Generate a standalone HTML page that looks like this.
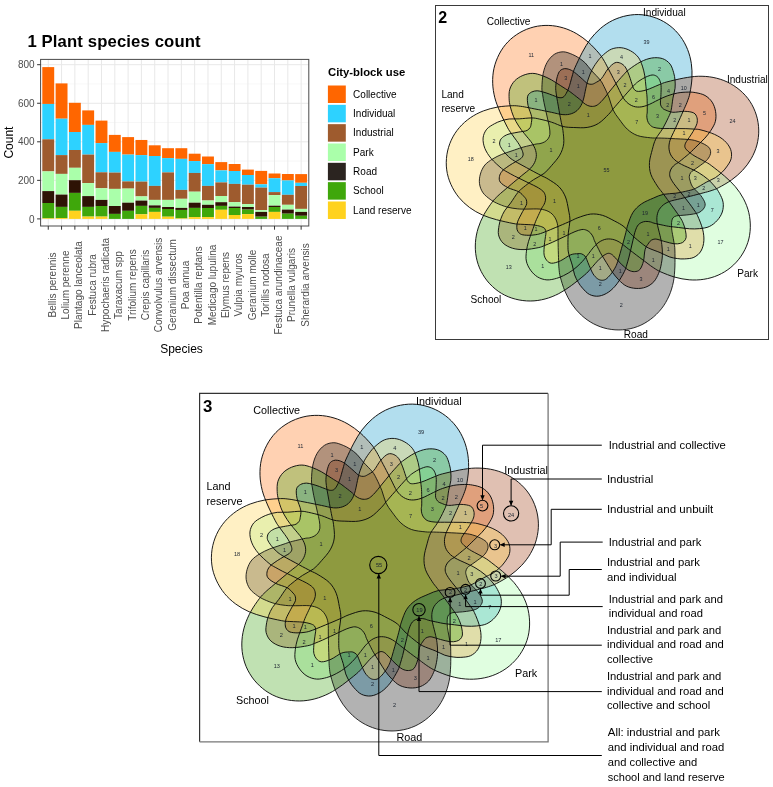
<!DOCTYPE html>
<html><head><meta charset="utf-8"><title>Plant species count</title>
<style>
html,body{margin:0;padding:0;background:#fff;}
body{width:773px;height:787px;overflow:hidden;position:relative;font-family:"Liberation Sans",sans-serif;}
svg{position:absolute;left:0;top:0;}
text{font-family:"Liberation Sans",sans-serif;}
.ax{font-size:10px;fill:#4d4d4d;}
.lg{font-size:10px;fill:#000;}
.vl{font-size:10.3px;fill:#000;}
.num{font-size:4px;fill:#333;text-anchor:middle;}
.ann{font-size:11.3px;fill:#000;}
</style></head><body>
<svg width="773" height="787" viewBox="0 0 773 787">
<rect width="773" height="787" fill="#fff"/>
<g><line x1="40.6" x2="308.8" y1="199.62" y2="199.62" stroke="#f2f2f2" stroke-width="0.6"/><line x1="40.6" x2="308.8" y1="161.08" y2="161.08" stroke="#f2f2f2" stroke-width="0.6"/><line x1="40.6" x2="308.8" y1="122.53" y2="122.53" stroke="#f2f2f2" stroke-width="0.6"/><line x1="40.6" x2="308.8" y1="83.98" y2="83.98" stroke="#f2f2f2" stroke-width="0.6"/><line x1="40.6" x2="308.8" y1="218.90" y2="218.90" stroke="#e8e8e8" stroke-width="1"/><line x1="40.6" x2="308.8" y1="180.35" y2="180.35" stroke="#e8e8e8" stroke-width="1"/><line x1="40.6" x2="308.8" y1="141.80" y2="141.80" stroke="#e8e8e8" stroke-width="1"/><line x1="40.6" x2="308.8" y1="103.25" y2="103.25" stroke="#e8e8e8" stroke-width="1"/><line x1="40.6" x2="308.8" y1="64.70" y2="64.70" stroke="#e8e8e8" stroke-width="1"/><line x1="48.25" x2="48.25" y1="59.4" y2="226.0" stroke="#e8e8e8" stroke-width="1"/><line x1="61.56" x2="61.56" y1="59.4" y2="226.0" stroke="#e8e8e8" stroke-width="1"/><line x1="74.87" x2="74.87" y1="59.4" y2="226.0" stroke="#e8e8e8" stroke-width="1"/><line x1="88.18" x2="88.18" y1="59.4" y2="226.0" stroke="#e8e8e8" stroke-width="1"/><line x1="101.49" x2="101.49" y1="59.4" y2="226.0" stroke="#e8e8e8" stroke-width="1"/><line x1="114.80" x2="114.80" y1="59.4" y2="226.0" stroke="#e8e8e8" stroke-width="1"/><line x1="128.11" x2="128.11" y1="59.4" y2="226.0" stroke="#e8e8e8" stroke-width="1"/><line x1="141.42" x2="141.42" y1="59.4" y2="226.0" stroke="#e8e8e8" stroke-width="1"/><line x1="154.73" x2="154.73" y1="59.4" y2="226.0" stroke="#e8e8e8" stroke-width="1"/><line x1="168.04" x2="168.04" y1="59.4" y2="226.0" stroke="#e8e8e8" stroke-width="1"/><line x1="181.35" x2="181.35" y1="59.4" y2="226.0" stroke="#e8e8e8" stroke-width="1"/><line x1="194.66" x2="194.66" y1="59.4" y2="226.0" stroke="#e8e8e8" stroke-width="1"/><line x1="207.97" x2="207.97" y1="59.4" y2="226.0" stroke="#e8e8e8" stroke-width="1"/><line x1="221.28" x2="221.28" y1="59.4" y2="226.0" stroke="#e8e8e8" stroke-width="1"/><line x1="234.59" x2="234.59" y1="59.4" y2="226.0" stroke="#e8e8e8" stroke-width="1"/><line x1="247.90" x2="247.90" y1="59.4" y2="226.0" stroke="#e8e8e8" stroke-width="1"/><line x1="261.21" x2="261.21" y1="59.4" y2="226.0" stroke="#e8e8e8" stroke-width="1"/><line x1="274.52" x2="274.52" y1="59.4" y2="226.0" stroke="#e8e8e8" stroke-width="1"/><line x1="287.83" x2="287.83" y1="59.4" y2="226.0" stroke="#e8e8e8" stroke-width="1"/><line x1="301.14" x2="301.14" y1="59.4" y2="226.0" stroke="#e8e8e8" stroke-width="1"/></g>
<g><rect x="42.30" y="67.10" width="11.9" height="36.85" fill="#ff6600"/><rect x="42.30" y="103.95" width="11.9" height="35.35" fill="#2dd2ff"/><rect x="42.30" y="139.30" width="11.9" height="32.10" fill="#9e5b2e"/><rect x="42.30" y="171.40" width="11.9" height="19.70" fill="#aaffaa"/><rect x="42.30" y="191.10" width="11.9" height="11.90" fill="#2e1305"/><rect x="42.30" y="203.00" width="11.9" height="15.30" fill="#3fa70b"/><rect x="42.30" y="218.30" width="11.9" height="0.60" fill="#ffd21e"/><rect x="55.61" y="83.40" width="11.9" height="35.30" fill="#ff6600"/><rect x="55.61" y="118.70" width="11.9" height="36.40" fill="#2dd2ff"/><rect x="55.61" y="155.10" width="11.9" height="18.80" fill="#9e5b2e"/><rect x="55.61" y="173.90" width="11.9" height="20.70" fill="#aaffaa"/><rect x="55.61" y="194.60" width="11.9" height="12.30" fill="#2e1305"/><rect x="55.61" y="206.90" width="11.9" height="11.10" fill="#3fa70b"/><rect x="55.61" y="218.00" width="11.9" height="0.90" fill="#ffd21e"/><rect x="68.92" y="102.80" width="11.9" height="29.20" fill="#ff6600"/><rect x="68.92" y="132.00" width="11.9" height="18.00" fill="#2dd2ff"/><rect x="68.92" y="150.00" width="11.9" height="17.80" fill="#9e5b2e"/><rect x="68.92" y="167.80" width="11.9" height="12.40" fill="#aaffaa"/><rect x="68.92" y="180.20" width="11.9" height="12.70" fill="#2e1305"/><rect x="68.92" y="192.90" width="11.9" height="17.90" fill="#3fa70b"/><rect x="68.92" y="210.80" width="11.9" height="8.10" fill="#ffd21e"/><rect x="82.23" y="110.40" width="11.9" height="14.50" fill="#ff6600"/><rect x="82.23" y="124.90" width="11.9" height="29.70" fill="#2dd2ff"/><rect x="82.23" y="154.60" width="11.9" height="28.50" fill="#9e5b2e"/><rect x="82.23" y="183.10" width="11.9" height="13.00" fill="#aaffaa"/><rect x="82.23" y="196.10" width="11.9" height="10.80" fill="#2e1305"/><rect x="82.23" y="206.90" width="11.9" height="9.70" fill="#3fa70b"/><rect x="82.23" y="216.60" width="11.9" height="2.30" fill="#ffd21e"/><rect x="95.54" y="120.60" width="11.9" height="22.50" fill="#ff6600"/><rect x="95.54" y="143.10" width="11.9" height="29.20" fill="#2dd2ff"/><rect x="95.54" y="172.30" width="11.9" height="15.95" fill="#9e5b2e"/><rect x="95.54" y="188.25" width="11.9" height="11.65" fill="#aaffaa"/><rect x="95.54" y="199.90" width="11.9" height="6.10" fill="#2e1305"/><rect x="95.54" y="206.00" width="11.9" height="10.60" fill="#3fa70b"/><rect x="95.54" y="216.60" width="11.9" height="2.30" fill="#ffd21e"/><rect x="108.85" y="134.90" width="11.9" height="17.00" fill="#ff6600"/><rect x="108.85" y="151.90" width="11.9" height="20.70" fill="#2dd2ff"/><rect x="108.85" y="172.60" width="11.9" height="16.30" fill="#9e5b2e"/><rect x="108.85" y="188.90" width="11.9" height="17.10" fill="#aaffaa"/><rect x="108.85" y="206.00" width="11.9" height="7.90" fill="#2e1305"/><rect x="108.85" y="213.90" width="11.9" height="5.00" fill="#3fa70b"/><rect x="122.16" y="137.10" width="11.9" height="17.50" fill="#ff6600"/><rect x="122.16" y="154.60" width="11.9" height="26.80" fill="#2dd2ff"/><rect x="122.16" y="181.40" width="11.9" height="7.20" fill="#9e5b2e"/><rect x="122.16" y="188.60" width="11.9" height="14.10" fill="#aaffaa"/><rect x="122.16" y="202.70" width="11.9" height="8.15" fill="#2e1305"/><rect x="122.16" y="210.85" width="11.9" height="8.05" fill="#3fa70b"/><rect x="135.47" y="139.96" width="11.9" height="15.14" fill="#ff6600"/><rect x="135.47" y="155.10" width="11.9" height="26.50" fill="#2dd2ff"/><rect x="135.47" y="181.60" width="11.9" height="14.80" fill="#9e5b2e"/><rect x="135.47" y="196.40" width="11.9" height="4.20" fill="#aaffaa"/><rect x="135.47" y="200.60" width="11.9" height="5.30" fill="#2e1305"/><rect x="135.47" y="205.90" width="11.9" height="8.40" fill="#3fa70b"/><rect x="135.47" y="214.30" width="11.9" height="4.60" fill="#ffd21e"/><rect x="148.78" y="145.30" width="11.9" height="10.70" fill="#ff6600"/><rect x="148.78" y="156.00" width="11.9" height="29.90" fill="#2dd2ff"/><rect x="148.78" y="185.90" width="11.9" height="14.00" fill="#9e5b2e"/><rect x="148.78" y="199.90" width="11.9" height="5.50" fill="#aaffaa"/><rect x="148.78" y="205.40" width="11.9" height="2.50" fill="#2e1305"/><rect x="148.78" y="207.90" width="11.9" height="4.00" fill="#3fa70b"/><rect x="148.78" y="211.90" width="11.9" height="7.00" fill="#ffd21e"/><rect x="162.09" y="148.20" width="11.9" height="9.90" fill="#ff6600"/><rect x="162.09" y="158.10" width="11.9" height="14.30" fill="#2dd2ff"/><rect x="162.09" y="172.40" width="11.9" height="27.50" fill="#9e5b2e"/><rect x="162.09" y="199.90" width="11.9" height="7.10" fill="#aaffaa"/><rect x="162.09" y="207.00" width="11.9" height="2.00" fill="#2e1305"/><rect x="162.09" y="209.00" width="11.9" height="7.70" fill="#3fa70b"/><rect x="162.09" y="216.70" width="11.9" height="2.20" fill="#ffd21e"/><rect x="175.40" y="148.20" width="11.9" height="10.65" fill="#ff6600"/><rect x="175.40" y="158.85" width="11.9" height="31.05" fill="#2dd2ff"/><rect x="175.40" y="189.90" width="11.9" height="8.90" fill="#9e5b2e"/><rect x="175.40" y="198.80" width="11.9" height="9.10" fill="#aaffaa"/><rect x="175.40" y="207.90" width="11.9" height="2.05" fill="#2e1305"/><rect x="175.40" y="209.95" width="11.9" height="8.45" fill="#3fa70b"/><rect x="175.40" y="218.40" width="11.9" height="0.50" fill="#ffd21e"/><rect x="188.71" y="153.70" width="11.9" height="7.35" fill="#ff6600"/><rect x="188.71" y="161.05" width="11.9" height="11.90" fill="#2dd2ff"/><rect x="188.71" y="172.95" width="11.9" height="18.75" fill="#9e5b2e"/><rect x="188.71" y="191.70" width="11.9" height="11.00" fill="#aaffaa"/><rect x="188.71" y="202.70" width="11.9" height="5.20" fill="#2e1305"/><rect x="188.71" y="207.90" width="11.9" height="9.20" fill="#3fa70b"/><rect x="188.71" y="217.10" width="11.9" height="1.80" fill="#ffd21e"/><rect x="202.02" y="156.50" width="11.9" height="7.65" fill="#ff6600"/><rect x="202.02" y="164.15" width="11.9" height="21.75" fill="#2dd2ff"/><rect x="202.02" y="185.90" width="11.9" height="14.60" fill="#9e5b2e"/><rect x="202.02" y="200.50" width="11.9" height="4.30" fill="#aaffaa"/><rect x="202.02" y="204.80" width="11.9" height="3.20" fill="#2e1305"/><rect x="202.02" y="208.00" width="11.9" height="9.10" fill="#3fa70b"/><rect x="202.02" y="217.10" width="11.9" height="1.80" fill="#ffd21e"/><rect x="215.33" y="162.10" width="11.9" height="8.30" fill="#ff6600"/><rect x="215.33" y="170.40" width="11.9" height="12.00" fill="#2dd2ff"/><rect x="215.33" y="182.40" width="11.9" height="13.60" fill="#9e5b2e"/><rect x="215.33" y="196.00" width="11.9" height="6.20" fill="#aaffaa"/><rect x="215.33" y="202.20" width="11.9" height="3.70" fill="#2e1305"/><rect x="215.33" y="205.90" width="11.9" height="3.90" fill="#3fa70b"/><rect x="215.33" y="209.80" width="11.9" height="9.10" fill="#ffd21e"/><rect x="228.64" y="164.00" width="11.9" height="7.00" fill="#ff6600"/><rect x="228.64" y="171.00" width="11.9" height="12.90" fill="#2dd2ff"/><rect x="228.64" y="183.90" width="11.9" height="18.30" fill="#9e5b2e"/><rect x="228.64" y="202.20" width="11.9" height="4.40" fill="#aaffaa"/><rect x="228.64" y="206.60" width="11.9" height="1.40" fill="#2e1305"/><rect x="228.64" y="208.00" width="11.9" height="7.00" fill="#3fa70b"/><rect x="228.64" y="215.00" width="11.9" height="3.90" fill="#ffd21e"/><rect x="241.95" y="169.60" width="11.9" height="5.40" fill="#ff6600"/><rect x="241.95" y="175.00" width="11.9" height="9.70" fill="#2dd2ff"/><rect x="241.95" y="184.70" width="11.9" height="19.40" fill="#9e5b2e"/><rect x="241.95" y="204.10" width="11.9" height="2.90" fill="#aaffaa"/><rect x="241.95" y="207.00" width="11.9" height="2.60" fill="#2e1305"/><rect x="241.95" y="209.60" width="11.9" height="4.50" fill="#3fa70b"/><rect x="241.95" y="214.10" width="11.9" height="4.80" fill="#ffd21e"/><rect x="255.26" y="170.90" width="11.9" height="13.40" fill="#ff6600"/><rect x="255.26" y="184.30" width="11.9" height="3.30" fill="#2dd2ff"/><rect x="255.26" y="187.60" width="11.9" height="22.60" fill="#9e5b2e"/><rect x="255.26" y="210.20" width="11.9" height="1.70" fill="#aaffaa"/><rect x="255.26" y="211.90" width="11.9" height="4.80" fill="#2e1305"/><rect x="255.26" y="216.70" width="11.9" height="2.20" fill="#3fa70b"/><rect x="268.57" y="173.50" width="11.9" height="4.75" fill="#ff6600"/><rect x="268.57" y="178.25" width="11.9" height="13.85" fill="#2dd2ff"/><rect x="268.57" y="192.10" width="11.9" height="3.00" fill="#9e5b2e"/><rect x="268.57" y="195.10" width="11.9" height="10.60" fill="#aaffaa"/><rect x="268.57" y="205.70" width="11.9" height="1.30" fill="#2e1305"/><rect x="268.57" y="207.00" width="11.9" height="4.90" fill="#3fa70b"/><rect x="268.57" y="211.90" width="11.9" height="7.00" fill="#ffd21e"/><rect x="281.88" y="174.00" width="11.9" height="6.45" fill="#ff6600"/><rect x="281.88" y="180.45" width="11.9" height="14.35" fill="#2dd2ff"/><rect x="281.88" y="194.80" width="11.9" height="10.00" fill="#9e5b2e"/><rect x="281.88" y="204.80" width="11.9" height="4.80" fill="#aaffaa"/><rect x="281.88" y="209.60" width="11.9" height="4.10" fill="#2e1305"/><rect x="281.88" y="213.70" width="11.9" height="5.20" fill="#3fa70b"/><rect x="295.19" y="174.10" width="11.9" height="8.70" fill="#ff6600"/><rect x="295.19" y="182.80" width="11.9" height="3.20" fill="#2dd2ff"/><rect x="295.19" y="186.00" width="11.9" height="22.90" fill="#9e5b2e"/><rect x="295.19" y="208.90" width="11.9" height="3.00" fill="#aaffaa"/><rect x="295.19" y="211.90" width="11.9" height="3.90" fill="#2e1305"/><rect x="295.19" y="215.80" width="11.9" height="3.10" fill="#3fa70b"/></g>
<rect x="40.6" y="59.4" width="268.2" height="166.6" fill="none" stroke="#4a4a4a" stroke-width="1"/>
<g><line x1="37.1" x2="40.6" y1="218.90" y2="218.90" stroke="#333" stroke-width="1"/><text class="ax" x="34.6" y="222.50" text-anchor="end">0</text><line x1="37.1" x2="40.6" y1="180.35" y2="180.35" stroke="#333" stroke-width="1"/><text class="ax" x="34.6" y="183.95" text-anchor="end">200</text><line x1="37.1" x2="40.6" y1="141.80" y2="141.80" stroke="#333" stroke-width="1"/><text class="ax" x="34.6" y="145.40" text-anchor="end">400</text><line x1="37.1" x2="40.6" y1="103.25" y2="103.25" stroke="#333" stroke-width="1"/><text class="ax" x="34.6" y="106.85" text-anchor="end">600</text><line x1="37.1" x2="40.6" y1="64.70" y2="64.70" stroke="#333" stroke-width="1"/><text class="ax" x="34.6" y="68.30" text-anchor="end">800</text><line x1="48.25" x2="48.25" y1="226.0" y2="229.7" stroke="#333" stroke-width="1"/><text class="ax" transform="translate(55.85,285.0) rotate(-90)" text-anchor="middle">Bellis perennis</text><line x1="61.56" x2="61.56" y1="226.0" y2="229.7" stroke="#333" stroke-width="1"/><text class="ax" transform="translate(69.16,285.0) rotate(-90)" text-anchor="middle">Lolium perenne</text><line x1="74.87" x2="74.87" y1="226.0" y2="229.7" stroke="#333" stroke-width="1"/><text class="ax" transform="translate(82.47,285.0) rotate(-90)" text-anchor="middle">Plantago lanceolata</text><line x1="88.18" x2="88.18" y1="226.0" y2="229.7" stroke="#333" stroke-width="1"/><text class="ax" transform="translate(95.78,285.0) rotate(-90)" text-anchor="middle">Festuca rubra</text><line x1="101.49" x2="101.49" y1="226.0" y2="229.7" stroke="#333" stroke-width="1"/><text class="ax" transform="translate(109.09,285.0) rotate(-90)" text-anchor="middle">Hypochaeris radicata</text><line x1="114.80" x2="114.80" y1="226.0" y2="229.7" stroke="#333" stroke-width="1"/><text class="ax" transform="translate(122.40,285.0) rotate(-90)" text-anchor="middle">Taraxacum spp</text><line x1="128.11" x2="128.11" y1="226.0" y2="229.7" stroke="#333" stroke-width="1"/><text class="ax" transform="translate(135.71,285.0) rotate(-90)" text-anchor="middle">Trifolium repens</text><line x1="141.42" x2="141.42" y1="226.0" y2="229.7" stroke="#333" stroke-width="1"/><text class="ax" transform="translate(149.02,285.0) rotate(-90)" text-anchor="middle">Crepis capillaris</text><line x1="154.73" x2="154.73" y1="226.0" y2="229.7" stroke="#333" stroke-width="1"/><text class="ax" transform="translate(162.33,285.0) rotate(-90)" text-anchor="middle">Convolvulus arvensis</text><line x1="168.04" x2="168.04" y1="226.0" y2="229.7" stroke="#333" stroke-width="1"/><text class="ax" transform="translate(175.64,285.0) rotate(-90)" text-anchor="middle">Geranium dissectum</text><line x1="181.35" x2="181.35" y1="226.0" y2="229.7" stroke="#333" stroke-width="1"/><text class="ax" transform="translate(188.95,285.0) rotate(-90)" text-anchor="middle">Poa annua</text><line x1="194.66" x2="194.66" y1="226.0" y2="229.7" stroke="#333" stroke-width="1"/><text class="ax" transform="translate(202.26,285.0) rotate(-90)" text-anchor="middle">Potentilla reptans</text><line x1="207.97" x2="207.97" y1="226.0" y2="229.7" stroke="#333" stroke-width="1"/><text class="ax" transform="translate(215.57,285.0) rotate(-90)" text-anchor="middle">Medicago lupulina</text><line x1="221.28" x2="221.28" y1="226.0" y2="229.7" stroke="#333" stroke-width="1"/><text class="ax" transform="translate(228.88,285.0) rotate(-90)" text-anchor="middle">Elymus repens</text><line x1="234.59" x2="234.59" y1="226.0" y2="229.7" stroke="#333" stroke-width="1"/><text class="ax" transform="translate(242.19,285.0) rotate(-90)" text-anchor="middle">Vulpia myuros</text><line x1="247.90" x2="247.90" y1="226.0" y2="229.7" stroke="#333" stroke-width="1"/><text class="ax" transform="translate(255.50,285.0) rotate(-90)" text-anchor="middle">Geranium molle</text><line x1="261.21" x2="261.21" y1="226.0" y2="229.7" stroke="#333" stroke-width="1"/><text class="ax" transform="translate(268.81,285.0) rotate(-90)" text-anchor="middle">Torillis nodosa</text><line x1="274.52" x2="274.52" y1="226.0" y2="229.7" stroke="#333" stroke-width="1"/><text class="ax" transform="translate(282.12,285.0) rotate(-90)" text-anchor="middle">Festuca arundinaceae</text><line x1="287.83" x2="287.83" y1="226.0" y2="229.7" stroke="#333" stroke-width="1"/><text class="ax" transform="translate(295.43,285.0) rotate(-90)" text-anchor="middle">Prunella vulgaris</text><line x1="301.14" x2="301.14" y1="226.0" y2="229.7" stroke="#333" stroke-width="1"/><text class="ax" transform="translate(308.74,285.0) rotate(-90)" text-anchor="middle">Sherardia arvensis</text></g>
<text x="27.4" y="47" font-size="16.7px" font-weight="bold" fill="#000" textLength="173.2" lengthAdjust="spacing">1 Plant species count</text>
<text transform="translate(12.6,142.6) rotate(-90)" text-anchor="middle" font-size="12px" fill="#000">Count</text>
<text x="181.5" y="352.7" text-anchor="middle" font-size="12px" fill="#000">Species</text>
<text x="328" y="76.3" font-size="11.3px" font-weight="bold" fill="#000">City-block use</text>
<rect x="327.9" y="85.50" width="17.9" height="17.5" fill="#ff6600"/><text class="lg" x="353.1" y="97.70">Collective</text>
<rect x="327.9" y="104.83" width="17.9" height="17.5" fill="#2dd2ff"/><text class="lg" x="353.1" y="117.03">Individual</text>
<rect x="327.9" y="124.16" width="17.9" height="17.5" fill="#9e5b2e"/><text class="lg" x="353.1" y="136.36">Industrial</text>
<rect x="327.9" y="143.49" width="17.9" height="17.5" fill="#aaffaa"/><text class="lg" x="353.1" y="155.69">Park</text>
<rect x="327.9" y="162.82" width="17.9" height="17.5" fill="#2b2420"/><text class="lg" x="353.1" y="175.02">Road</text>
<rect x="327.9" y="182.15" width="17.9" height="17.5" fill="#3fa70b"/><text class="lg" x="353.1" y="194.35">School</text>
<rect x="327.9" y="201.48" width="17.9" height="17.5" fill="#ffd21e"/><text class="lg" x="353.1" y="213.68">Land reserve</text>
<rect x="435.5" y="5.5" width="333" height="334" fill="#fff" stroke="#3a3a3a" stroke-width="1"/>
<g transform="translate(604.50,169.70) scale(1.0000,1.0000) translate(-604.5,-169.7)"><path d="M559.0 268.8C559.3 271.5 559.3 273.3 560.3 277.0C561.3 280.7 563.0 286.6 564.9 291.1C566.8 295.6 569.1 300.0 571.8 304.0C574.5 308.0 577.7 311.8 581.3 315.1C584.9 318.4 589.0 321.4 593.4 323.7C597.8 326.0 602.6 327.8 607.5 328.8C612.4 329.8 617.6 330.2 622.6 329.8C627.6 329.4 632.7 328.4 637.4 326.6C642.1 324.9 646.6 322.3 650.6 319.3C654.6 316.3 658.3 312.7 661.4 308.8C664.5 304.9 667.0 300.5 669.0 296.0C671.0 291.5 672.4 286.7 673.4 281.9C674.4 277.1 674.6 272.3 674.9 267.0C675.1 261.7 675.0 254.1 674.9 250.0C674.8 245.9 674.4 245.1 674.0 242.5C673.6 239.9 672.9 236.6 672.5 234.3C672.1 232.0 671.9 230.9 671.7 228.9C671.6 226.9 671.4 224.4 671.6 222.6C671.8 220.8 672.0 219.1 672.8 218.0C673.6 216.9 675.0 216.3 676.3 215.9C677.5 215.5 678.6 215.7 680.3 215.5C681.9 215.3 684.0 215.2 686.2 215.0C688.4 214.8 691.4 214.4 693.5 214.0C695.6 213.6 697.2 213.4 698.9 212.6C700.5 211.8 702.4 210.5 703.4 209.0C704.4 207.5 705.5 205.9 705.1 203.6C704.7 201.3 702.8 198.2 700.7 195.4C698.6 192.6 694.4 189.4 692.6 186.8C690.8 184.2 690.5 181.8 689.9 180.0C689.3 178.2 689.2 177.5 689.3 176.3C689.4 175.1 690.0 173.7 690.7 172.6C691.5 171.5 692.4 171.0 693.8 170.0C695.2 169.0 696.9 168.0 699.0 166.4C701.1 164.8 704.5 162.5 706.3 160.7C708.1 158.9 709.2 157.1 709.9 155.5C710.6 153.9 710.8 152.8 710.6 151.4C710.4 150.0 710.0 148.6 708.8 147.3C707.5 146.0 705.2 144.7 703.1 143.6C701.0 142.5 698.3 141.5 695.9 140.8C693.5 140.1 692.8 139.9 688.7 139.5C684.6 139.1 676.1 138.8 671.1 138.5C666.1 138.2 662.0 138.1 658.6 138.0C655.2 137.9 654.1 138.2 650.6 137.8C647.1 137.4 641.5 137.0 637.6 135.6C633.7 134.2 630.4 132.0 627.3 129.2C624.2 126.4 621.3 122.0 618.9 118.8C616.5 115.6 614.6 113.2 613.0 109.8C611.4 106.3 610.7 102.0 609.2 98.1C607.7 94.2 605.5 89.5 604.0 86.5C602.5 83.5 602.2 82.6 600.2 80.0C598.2 77.4 594.2 73.6 591.7 70.8C589.2 68.0 587.4 65.2 585.3 63.0C583.1 60.9 581.0 59.3 578.8 57.9C576.6 56.5 574.9 55.4 572.3 54.4C569.7 53.4 566.3 51.8 563.3 51.8C560.3 51.8 556.9 52.6 554.2 54.4C551.5 56.2 548.9 59.2 547.1 62.4C545.3 65.6 544.1 69.2 543.2 73.4C542.3 77.6 542.0 84.1 541.9 87.6C541.8 91.1 542.2 92.0 542.6 94.5C543.0 97.0 543.5 99.9 544.0 102.6C544.5 105.3 545.2 108.1 545.8 110.8C546.4 113.5 547.0 116.2 547.6 118.9C548.2 121.6 549.0 124.5 549.4 127.1C549.8 129.7 550.1 132.3 549.9 134.3C549.7 136.3 548.9 137.6 548.0 138.9C547.1 140.2 545.8 141.2 544.4 142.0C543.0 142.8 541.2 143.3 539.9 143.6C538.5 143.9 538.3 143.6 536.3 144.0C534.3 144.4 530.5 145.3 528.1 145.9C525.7 146.5 524.5 146.7 521.8 147.5C519.1 148.3 515.5 149.7 512.1 150.8C508.8 152.0 504.9 153.1 501.7 154.4C498.5 155.8 495.5 157.1 492.7 158.9C489.9 160.7 486.9 162.5 484.9 165.0C482.8 167.5 481.3 170.9 480.4 174.0C479.5 177.1 479.1 180.6 479.5 183.7C479.9 186.8 481.2 190.2 483.0 192.8C484.8 195.4 487.8 197.6 490.1 199.3C492.4 201.0 493.8 201.8 496.6 203.1C499.4 204.4 503.4 206.1 506.9 207.0C510.3 207.9 514.0 208.5 517.3 208.8C520.6 209.2 523.1 209.1 526.9 209.1C530.7 209.1 536.2 208.7 539.9 209.1C543.6 209.5 546.4 210.3 548.9 211.7C551.4 213.0 553.2 214.9 554.7 217.2C556.2 219.5 557.2 222.2 557.7 225.6C558.2 228.9 557.9 233.6 558.0 237.3C558.1 241.0 558.1 243.7 558.2 247.6C558.3 251.5 558.5 257.1 558.6 260.6C558.7 264.1 558.7 266.1 559.0 268.8Z" transform="translate(1.1,-0.7) rotate(154.2857 604.5 169.7)" fill="#ff6600" fill-opacity="0.3" stroke="none"/><path d="M559.0 268.8C559.3 271.5 559.3 273.3 560.3 277.0C561.3 280.7 563.0 286.6 564.9 291.1C566.8 295.6 569.1 300.0 571.8 304.0C574.5 308.0 577.7 311.8 581.3 315.1C584.9 318.4 589.0 321.4 593.4 323.7C597.8 326.0 602.6 327.8 607.5 328.8C612.4 329.8 617.6 330.2 622.6 329.8C627.6 329.4 632.7 328.4 637.4 326.6C642.1 324.9 646.6 322.3 650.6 319.3C654.6 316.3 658.3 312.7 661.4 308.8C664.5 304.9 667.0 300.5 669.0 296.0C671.0 291.5 672.4 286.7 673.4 281.9C674.4 277.1 674.6 272.3 674.9 267.0C675.1 261.7 675.0 254.1 674.9 250.0C674.8 245.9 674.4 245.1 674.0 242.5C673.6 239.9 672.9 236.6 672.5 234.3C672.1 232.0 671.9 230.9 671.7 228.9C671.6 226.9 671.4 224.4 671.6 222.6C671.8 220.8 672.0 219.1 672.8 218.0C673.6 216.9 675.0 216.3 676.3 215.9C677.5 215.5 678.6 215.7 680.3 215.5C681.9 215.3 684.0 215.2 686.2 215.0C688.4 214.8 691.4 214.4 693.5 214.0C695.6 213.6 697.2 213.4 698.9 212.6C700.5 211.8 702.4 210.5 703.4 209.0C704.4 207.5 705.5 205.9 705.1 203.6C704.7 201.3 702.8 198.2 700.7 195.4C698.6 192.6 694.4 189.4 692.6 186.8C690.8 184.2 690.5 181.8 689.9 180.0C689.3 178.2 689.2 177.5 689.3 176.3C689.4 175.1 690.0 173.7 690.7 172.6C691.5 171.5 692.4 171.0 693.8 170.0C695.2 169.0 696.9 168.0 699.0 166.4C701.1 164.8 704.5 162.5 706.3 160.7C708.1 158.9 709.2 157.1 709.9 155.5C710.6 153.9 710.8 152.8 710.6 151.4C710.4 150.0 710.0 148.6 708.8 147.3C707.5 146.0 705.2 144.7 703.1 143.6C701.0 142.5 698.3 141.5 695.9 140.8C693.5 140.1 692.8 139.9 688.7 139.5C684.6 139.1 676.1 138.8 671.1 138.5C666.1 138.2 662.0 138.1 658.6 138.0C655.2 137.9 654.1 138.2 650.6 137.8C647.1 137.4 641.5 137.0 637.6 135.6C633.7 134.2 630.4 132.0 627.3 129.2C624.2 126.4 621.3 122.0 618.9 118.8C616.5 115.6 614.6 113.2 613.0 109.8C611.4 106.3 610.7 102.0 609.2 98.1C607.7 94.2 605.5 89.5 604.0 86.5C602.5 83.5 602.2 82.6 600.2 80.0C598.2 77.4 594.2 73.6 591.7 70.8C589.2 68.0 587.4 65.2 585.3 63.0C583.1 60.9 581.0 59.3 578.8 57.9C576.6 56.5 574.9 55.4 572.3 54.4C569.7 53.4 566.3 51.8 563.3 51.8C560.3 51.8 556.9 52.6 554.2 54.4C551.5 56.2 548.9 59.2 547.1 62.4C545.3 65.6 544.1 69.2 543.2 73.4C542.3 77.6 542.0 84.1 541.9 87.6C541.8 91.1 542.2 92.0 542.6 94.5C543.0 97.0 543.5 99.9 544.0 102.6C544.5 105.3 545.2 108.1 545.8 110.8C546.4 113.5 547.0 116.2 547.6 118.9C548.2 121.6 549.0 124.5 549.4 127.1C549.8 129.7 550.1 132.3 549.9 134.3C549.7 136.3 548.9 137.6 548.0 138.9C547.1 140.2 545.8 141.2 544.4 142.0C543.0 142.8 541.2 143.3 539.9 143.6C538.5 143.9 538.3 143.6 536.3 144.0C534.3 144.4 530.5 145.3 528.1 145.9C525.7 146.5 524.5 146.7 521.8 147.5C519.1 148.3 515.5 149.7 512.1 150.8C508.8 152.0 504.9 153.1 501.7 154.4C498.5 155.8 495.5 157.1 492.7 158.9C489.9 160.7 486.9 162.5 484.9 165.0C482.8 167.5 481.3 170.9 480.4 174.0C479.5 177.1 479.1 180.6 479.5 183.7C479.9 186.8 481.2 190.2 483.0 192.8C484.8 195.4 487.8 197.6 490.1 199.3C492.4 201.0 493.8 201.8 496.6 203.1C499.4 204.4 503.4 206.1 506.9 207.0C510.3 207.9 514.0 208.5 517.3 208.8C520.6 209.2 523.1 209.1 526.9 209.1C530.7 209.1 536.2 208.7 539.9 209.1C543.6 209.5 546.4 210.3 548.9 211.7C551.4 213.0 553.2 214.9 554.7 217.2C556.2 219.5 557.2 222.2 557.7 225.6C558.2 228.9 557.9 233.6 558.0 237.3C558.1 241.0 558.1 243.7 558.2 247.6C558.3 251.5 558.5 257.1 558.6 260.6C558.7 264.1 558.7 266.1 559.0 268.8Z" transform="translate(-0.9,0.7) rotate(205.7143 604.5 169.7)" fill="#0091c6" fill-opacity="0.3" stroke="none"/><path d="M559.0 268.8C559.3 271.5 559.3 273.3 560.3 277.0C561.3 280.7 563.0 286.6 564.9 291.1C566.8 295.6 569.1 300.0 571.8 304.0C574.5 308.0 577.7 311.8 581.3 315.1C584.9 318.4 589.0 321.4 593.4 323.7C597.8 326.0 602.6 327.8 607.5 328.8C612.4 329.8 617.6 330.2 622.6 329.8C627.6 329.4 632.7 328.4 637.4 326.6C642.1 324.9 646.6 322.3 650.6 319.3C654.6 316.3 658.3 312.7 661.4 308.8C664.5 304.9 667.0 300.5 669.0 296.0C671.0 291.5 672.4 286.7 673.4 281.9C674.4 277.1 674.6 272.3 674.9 267.0C675.1 261.7 675.0 254.1 674.9 250.0C674.8 245.9 674.4 245.1 674.0 242.5C673.6 239.9 672.9 236.6 672.5 234.3C672.1 232.0 671.9 230.9 671.7 228.9C671.6 226.9 671.4 224.4 671.6 222.6C671.8 220.8 672.0 219.1 672.8 218.0C673.6 216.9 675.0 216.3 676.3 215.9C677.5 215.5 678.6 215.7 680.3 215.5C681.9 215.3 684.0 215.2 686.2 215.0C688.4 214.8 691.4 214.4 693.5 214.0C695.6 213.6 697.2 213.4 698.9 212.6C700.5 211.8 702.4 210.5 703.4 209.0C704.4 207.5 705.5 205.9 705.1 203.6C704.7 201.3 702.8 198.2 700.7 195.4C698.6 192.6 694.4 189.4 692.6 186.8C690.8 184.2 690.5 181.8 689.9 180.0C689.3 178.2 689.2 177.5 689.3 176.3C689.4 175.1 690.0 173.7 690.7 172.6C691.5 171.5 692.4 171.0 693.8 170.0C695.2 169.0 696.9 168.0 699.0 166.4C701.1 164.8 704.5 162.5 706.3 160.7C708.1 158.9 709.2 157.1 709.9 155.5C710.6 153.9 710.8 152.8 710.6 151.4C710.4 150.0 710.0 148.6 708.8 147.3C707.5 146.0 705.2 144.7 703.1 143.6C701.0 142.5 698.3 141.5 695.9 140.8C693.5 140.1 692.8 139.9 688.7 139.5C684.6 139.1 676.1 138.8 671.1 138.5C666.1 138.2 662.0 138.1 658.6 138.0C655.2 137.9 654.1 138.2 650.6 137.8C647.1 137.4 641.5 137.0 637.6 135.6C633.7 134.2 630.4 132.0 627.3 129.2C624.2 126.4 621.3 122.0 618.9 118.8C616.5 115.6 614.6 113.2 613.0 109.8C611.4 106.3 610.7 102.0 609.2 98.1C607.7 94.2 605.5 89.5 604.0 86.5C602.5 83.5 602.2 82.6 600.2 80.0C598.2 77.4 594.2 73.6 591.7 70.8C589.2 68.0 587.4 65.2 585.3 63.0C583.1 60.9 581.0 59.3 578.8 57.9C576.6 56.5 574.9 55.4 572.3 54.4C569.7 53.4 566.3 51.8 563.3 51.8C560.3 51.8 556.9 52.6 554.2 54.4C551.5 56.2 548.9 59.2 547.1 62.4C545.3 65.6 544.1 69.2 543.2 73.4C542.3 77.6 542.0 84.1 541.9 87.6C541.8 91.1 542.2 92.0 542.6 94.5C543.0 97.0 543.5 99.9 544.0 102.6C544.5 105.3 545.2 108.1 545.8 110.8C546.4 113.5 547.0 116.2 547.6 118.9C548.2 121.6 549.0 124.5 549.4 127.1C549.8 129.7 550.1 132.3 549.9 134.3C549.7 136.3 548.9 137.6 548.0 138.9C547.1 140.2 545.8 141.2 544.4 142.0C543.0 142.8 541.2 143.3 539.9 143.6C538.5 143.9 538.3 143.6 536.3 144.0C534.3 144.4 530.5 145.3 528.1 145.9C525.7 146.5 524.5 146.7 521.8 147.5C519.1 148.3 515.5 149.7 512.1 150.8C508.8 152.0 504.9 153.1 501.7 154.4C498.5 155.8 495.5 157.1 492.7 158.9C489.9 160.7 486.9 162.5 484.9 165.0C482.8 167.5 481.3 170.9 480.4 174.0C479.5 177.1 479.1 180.6 479.5 183.7C479.9 186.8 481.2 190.2 483.0 192.8C484.8 195.4 487.8 197.6 490.1 199.3C492.4 201.0 493.8 201.8 496.6 203.1C499.4 204.4 503.4 206.1 506.9 207.0C510.3 207.9 514.0 208.5 517.3 208.8C520.6 209.2 523.1 209.1 526.9 209.1C530.7 209.1 536.2 208.7 539.9 209.1C543.6 209.5 546.4 210.3 548.9 211.7C551.4 213.0 553.2 214.9 554.7 217.2C556.2 219.5 557.2 222.2 557.7 225.6C558.2 228.9 557.9 233.6 558.0 237.3C558.1 241.0 558.1 243.7 558.2 247.6C558.3 251.5 558.5 257.1 558.6 260.6C558.7 264.1 558.7 266.1 559.0 268.8Z" transform="translate(-0.2,-1.3) rotate(257.1429 604.5 169.7)" fill="#982e00" fill-opacity="0.3" stroke="none"/><path d="M559.0 268.8C559.3 271.5 559.3 273.3 560.3 277.0C561.3 280.7 563.0 286.6 564.9 291.1C566.8 295.6 569.1 300.0 571.8 304.0C574.5 308.0 577.7 311.8 581.3 315.1C584.9 318.4 589.0 321.4 593.4 323.7C597.8 326.0 602.6 327.8 607.5 328.8C612.4 329.8 617.6 330.2 622.6 329.8C627.6 329.4 632.7 328.4 637.4 326.6C642.1 324.9 646.6 322.3 650.6 319.3C654.6 316.3 658.3 312.7 661.4 308.8C664.5 304.9 667.0 300.5 669.0 296.0C671.0 291.5 672.4 286.7 673.4 281.9C674.4 277.1 674.6 272.3 674.9 267.0C675.1 261.7 675.0 254.1 674.9 250.0C674.8 245.9 674.4 245.1 674.0 242.5C673.6 239.9 672.9 236.6 672.5 234.3C672.1 232.0 671.9 230.9 671.7 228.9C671.6 226.9 671.4 224.4 671.6 222.6C671.8 220.8 672.0 219.1 672.8 218.0C673.6 216.9 675.0 216.3 676.3 215.9C677.5 215.5 678.6 215.7 680.3 215.5C681.9 215.3 684.0 215.2 686.2 215.0C688.4 214.8 691.4 214.4 693.5 214.0C695.6 213.6 697.2 213.4 698.9 212.6C700.5 211.8 702.4 210.5 703.4 209.0C704.4 207.5 705.5 205.9 705.1 203.6C704.7 201.3 702.8 198.2 700.7 195.4C698.6 192.6 694.4 189.4 692.6 186.8C690.8 184.2 690.5 181.8 689.9 180.0C689.3 178.2 689.2 177.5 689.3 176.3C689.4 175.1 690.0 173.7 690.7 172.6C691.5 171.5 692.4 171.0 693.8 170.0C695.2 169.0 696.9 168.0 699.0 166.4C701.1 164.8 704.5 162.5 706.3 160.7C708.1 158.9 709.2 157.1 709.9 155.5C710.6 153.9 710.8 152.8 710.6 151.4C710.4 150.0 710.0 148.6 708.8 147.3C707.5 146.0 705.2 144.7 703.1 143.6C701.0 142.5 698.3 141.5 695.9 140.8C693.5 140.1 692.8 139.9 688.7 139.5C684.6 139.1 676.1 138.8 671.1 138.5C666.1 138.2 662.0 138.1 658.6 138.0C655.2 137.9 654.1 138.2 650.6 137.8C647.1 137.4 641.5 137.0 637.6 135.6C633.7 134.2 630.4 132.0 627.3 129.2C624.2 126.4 621.3 122.0 618.9 118.8C616.5 115.6 614.6 113.2 613.0 109.8C611.4 106.3 610.7 102.0 609.2 98.1C607.7 94.2 605.5 89.5 604.0 86.5C602.5 83.5 602.2 82.6 600.2 80.0C598.2 77.4 594.2 73.6 591.7 70.8C589.2 68.0 587.4 65.2 585.3 63.0C583.1 60.9 581.0 59.3 578.8 57.9C576.6 56.5 574.9 55.4 572.3 54.4C569.7 53.4 566.3 51.8 563.3 51.8C560.3 51.8 556.9 52.6 554.2 54.4C551.5 56.2 548.9 59.2 547.1 62.4C545.3 65.6 544.1 69.2 543.2 73.4C542.3 77.6 542.0 84.1 541.9 87.6C541.8 91.1 542.2 92.0 542.6 94.5C543.0 97.0 543.5 99.9 544.0 102.6C544.5 105.3 545.2 108.1 545.8 110.8C546.4 113.5 547.0 116.2 547.6 118.9C548.2 121.6 549.0 124.5 549.4 127.1C549.8 129.7 550.1 132.3 549.9 134.3C549.7 136.3 548.9 137.6 548.0 138.9C547.1 140.2 545.8 141.2 544.4 142.0C543.0 142.8 541.2 143.3 539.9 143.6C538.5 143.9 538.3 143.6 536.3 144.0C534.3 144.4 530.5 145.3 528.1 145.9C525.7 146.5 524.5 146.7 521.8 147.5C519.1 148.3 515.5 149.7 512.1 150.8C508.8 152.0 504.9 153.1 501.7 154.4C498.5 155.8 495.5 157.1 492.7 158.9C489.9 160.7 486.9 162.5 484.9 165.0C482.8 167.5 481.3 170.9 480.4 174.0C479.5 177.1 479.1 180.6 479.5 183.7C479.9 186.8 481.2 190.2 483.0 192.8C484.8 195.4 487.8 197.6 490.1 199.3C492.4 201.0 493.8 201.8 496.6 203.1C499.4 204.4 503.4 206.1 506.9 207.0C510.3 207.9 514.0 208.5 517.3 208.8C520.6 209.2 523.1 209.1 526.9 209.1C530.7 209.1 536.2 208.7 539.9 209.1C543.6 209.5 546.4 210.3 548.9 211.7C551.4 213.0 553.2 214.9 554.7 217.2C556.2 219.5 557.2 222.2 557.7 225.6C558.2 228.9 557.9 233.6 558.0 237.3C558.1 241.0 558.1 243.7 558.2 247.6C558.3 251.5 558.5 257.1 558.6 260.6C558.7 264.1 558.7 266.1 559.0 268.8Z" transform="translate(0.1,0.8) rotate(308.5714 604.5 169.7)" fill="#98fb98" fill-opacity="0.3" stroke="none"/><path d="M559.0 268.8C559.3 271.5 559.3 273.3 560.3 277.0C561.3 280.7 563.0 286.6 564.9 291.1C566.8 295.6 569.1 300.0 571.8 304.0C574.5 308.0 577.7 311.8 581.3 315.1C584.9 318.4 589.0 321.4 593.4 323.7C597.8 326.0 602.6 327.8 607.5 328.8C612.4 329.8 617.6 330.2 622.6 329.8C627.6 329.4 632.7 328.4 637.4 326.6C642.1 324.9 646.6 322.3 650.6 319.3C654.6 316.3 658.3 312.7 661.4 308.8C664.5 304.9 667.0 300.5 669.0 296.0C671.0 291.5 672.4 286.7 673.4 281.9C674.4 277.1 674.6 272.3 674.9 267.0C675.1 261.7 675.0 254.1 674.9 250.0C674.8 245.9 674.4 245.1 674.0 242.5C673.6 239.9 672.9 236.6 672.5 234.3C672.1 232.0 671.9 230.9 671.7 228.9C671.6 226.9 671.4 224.4 671.6 222.6C671.8 220.8 672.0 219.1 672.8 218.0C673.6 216.9 675.0 216.3 676.3 215.9C677.5 215.5 678.6 215.7 680.3 215.5C681.9 215.3 684.0 215.2 686.2 215.0C688.4 214.8 691.4 214.4 693.5 214.0C695.6 213.6 697.2 213.4 698.9 212.6C700.5 211.8 702.4 210.5 703.4 209.0C704.4 207.5 705.5 205.9 705.1 203.6C704.7 201.3 702.8 198.2 700.7 195.4C698.6 192.6 694.4 189.4 692.6 186.8C690.8 184.2 690.5 181.8 689.9 180.0C689.3 178.2 689.2 177.5 689.3 176.3C689.4 175.1 690.0 173.7 690.7 172.6C691.5 171.5 692.4 171.0 693.8 170.0C695.2 169.0 696.9 168.0 699.0 166.4C701.1 164.8 704.5 162.5 706.3 160.7C708.1 158.9 709.2 157.1 709.9 155.5C710.6 153.9 710.8 152.8 710.6 151.4C710.4 150.0 710.0 148.6 708.8 147.3C707.5 146.0 705.2 144.7 703.1 143.6C701.0 142.5 698.3 141.5 695.9 140.8C693.5 140.1 692.8 139.9 688.7 139.5C684.6 139.1 676.1 138.8 671.1 138.5C666.1 138.2 662.0 138.1 658.6 138.0C655.2 137.9 654.1 138.2 650.6 137.8C647.1 137.4 641.5 137.0 637.6 135.6C633.7 134.2 630.4 132.0 627.3 129.2C624.2 126.4 621.3 122.0 618.9 118.8C616.5 115.6 614.6 113.2 613.0 109.8C611.4 106.3 610.7 102.0 609.2 98.1C607.7 94.2 605.5 89.5 604.0 86.5C602.5 83.5 602.2 82.6 600.2 80.0C598.2 77.4 594.2 73.6 591.7 70.8C589.2 68.0 587.4 65.2 585.3 63.0C583.1 60.9 581.0 59.3 578.8 57.9C576.6 56.5 574.9 55.4 572.3 54.4C569.7 53.4 566.3 51.8 563.3 51.8C560.3 51.8 556.9 52.6 554.2 54.4C551.5 56.2 548.9 59.2 547.1 62.4C545.3 65.6 544.1 69.2 543.2 73.4C542.3 77.6 542.0 84.1 541.9 87.6C541.8 91.1 542.2 92.0 542.6 94.5C543.0 97.0 543.5 99.9 544.0 102.6C544.5 105.3 545.2 108.1 545.8 110.8C546.4 113.5 547.0 116.2 547.6 118.9C548.2 121.6 549.0 124.5 549.4 127.1C549.8 129.7 550.1 132.3 549.9 134.3C549.7 136.3 548.9 137.6 548.0 138.9C547.1 140.2 545.8 141.2 544.4 142.0C543.0 142.8 541.2 143.3 539.9 143.6C538.5 143.9 538.3 143.6 536.3 144.0C534.3 144.4 530.5 145.3 528.1 145.9C525.7 146.5 524.5 146.7 521.8 147.5C519.1 148.3 515.5 149.7 512.1 150.8C508.8 152.0 504.9 153.1 501.7 154.4C498.5 155.8 495.5 157.1 492.7 158.9C489.9 160.7 486.9 162.5 484.9 165.0C482.8 167.5 481.3 170.9 480.4 174.0C479.5 177.1 479.1 180.6 479.5 183.7C479.9 186.8 481.2 190.2 483.0 192.8C484.8 195.4 487.8 197.6 490.1 199.3C492.4 201.0 493.8 201.8 496.6 203.1C499.4 204.4 503.4 206.1 506.9 207.0C510.3 207.9 514.0 208.5 517.3 208.8C520.6 209.2 523.1 209.1 526.9 209.1C530.7 209.1 536.2 208.7 539.9 209.1C543.6 209.5 546.4 210.3 548.9 211.7C551.4 213.0 553.2 214.9 554.7 217.2C556.2 219.5 557.2 222.2 557.7 225.6C558.2 228.9 557.9 233.6 558.0 237.3C558.1 241.0 558.1 243.7 558.2 247.6C558.3 251.5 558.5 257.1 558.6 260.6C558.7 264.1 558.7 266.1 559.0 268.8Z" transform="translate(0,0) rotate(0.0000 604.5 169.7)" fill="#000000" fill-opacity="0.3" stroke="none"/><path d="M559.0 268.8C559.3 271.5 559.3 273.3 560.3 277.0C561.3 280.7 563.0 286.6 564.9 291.1C566.8 295.6 569.1 300.0 571.8 304.0C574.5 308.0 577.7 311.8 581.3 315.1C584.9 318.4 589.0 321.4 593.4 323.7C597.8 326.0 602.6 327.8 607.5 328.8C612.4 329.8 617.6 330.2 622.6 329.8C627.6 329.4 632.7 328.4 637.4 326.6C642.1 324.9 646.6 322.3 650.6 319.3C654.6 316.3 658.3 312.7 661.4 308.8C664.5 304.9 667.0 300.5 669.0 296.0C671.0 291.5 672.4 286.7 673.4 281.9C674.4 277.1 674.6 272.3 674.9 267.0C675.1 261.7 675.0 254.1 674.9 250.0C674.8 245.9 674.4 245.1 674.0 242.5C673.6 239.9 672.9 236.6 672.5 234.3C672.1 232.0 671.9 230.9 671.7 228.9C671.6 226.9 671.4 224.4 671.6 222.6C671.8 220.8 672.0 219.1 672.8 218.0C673.6 216.9 675.0 216.3 676.3 215.9C677.5 215.5 678.6 215.7 680.3 215.5C681.9 215.3 684.0 215.2 686.2 215.0C688.4 214.8 691.4 214.4 693.5 214.0C695.6 213.6 697.2 213.4 698.9 212.6C700.5 211.8 702.4 210.5 703.4 209.0C704.4 207.5 705.5 205.9 705.1 203.6C704.7 201.3 702.8 198.2 700.7 195.4C698.6 192.6 694.4 189.4 692.6 186.8C690.8 184.2 690.5 181.8 689.9 180.0C689.3 178.2 689.2 177.5 689.3 176.3C689.4 175.1 690.0 173.7 690.7 172.6C691.5 171.5 692.4 171.0 693.8 170.0C695.2 169.0 696.9 168.0 699.0 166.4C701.1 164.8 704.5 162.5 706.3 160.7C708.1 158.9 709.2 157.1 709.9 155.5C710.6 153.9 710.8 152.8 710.6 151.4C710.4 150.0 710.0 148.6 708.8 147.3C707.5 146.0 705.2 144.7 703.1 143.6C701.0 142.5 698.3 141.5 695.9 140.8C693.5 140.1 692.8 139.9 688.7 139.5C684.6 139.1 676.1 138.8 671.1 138.5C666.1 138.2 662.0 138.1 658.6 138.0C655.2 137.9 654.1 138.2 650.6 137.8C647.1 137.4 641.5 137.0 637.6 135.6C633.7 134.2 630.4 132.0 627.3 129.2C624.2 126.4 621.3 122.0 618.9 118.8C616.5 115.6 614.6 113.2 613.0 109.8C611.4 106.3 610.7 102.0 609.2 98.1C607.7 94.2 605.5 89.5 604.0 86.5C602.5 83.5 602.2 82.6 600.2 80.0C598.2 77.4 594.2 73.6 591.7 70.8C589.2 68.0 587.4 65.2 585.3 63.0C583.1 60.9 581.0 59.3 578.8 57.9C576.6 56.5 574.9 55.4 572.3 54.4C569.7 53.4 566.3 51.8 563.3 51.8C560.3 51.8 556.9 52.6 554.2 54.4C551.5 56.2 548.9 59.2 547.1 62.4C545.3 65.6 544.1 69.2 543.2 73.4C542.3 77.6 542.0 84.1 541.9 87.6C541.8 91.1 542.2 92.0 542.6 94.5C543.0 97.0 543.5 99.9 544.0 102.6C544.5 105.3 545.2 108.1 545.8 110.8C546.4 113.5 547.0 116.2 547.6 118.9C548.2 121.6 549.0 124.5 549.4 127.1C549.8 129.7 550.1 132.3 549.9 134.3C549.7 136.3 548.9 137.6 548.0 138.9C547.1 140.2 545.8 141.2 544.4 142.0C543.0 142.8 541.2 143.3 539.9 143.6C538.5 143.9 538.3 143.6 536.3 144.0C534.3 144.4 530.5 145.3 528.1 145.9C525.7 146.5 524.5 146.7 521.8 147.5C519.1 148.3 515.5 149.7 512.1 150.8C508.8 152.0 504.9 153.1 501.7 154.4C498.5 155.8 495.5 157.1 492.7 158.9C489.9 160.7 486.9 162.5 484.9 165.0C482.8 167.5 481.3 170.9 480.4 174.0C479.5 177.1 479.1 180.6 479.5 183.7C479.9 186.8 481.2 190.2 483.0 192.8C484.8 195.4 487.8 197.6 490.1 199.3C492.4 201.0 493.8 201.8 496.6 203.1C499.4 204.4 503.4 206.1 506.9 207.0C510.3 207.9 514.0 208.5 517.3 208.8C520.6 209.2 523.1 209.1 526.9 209.1C530.7 209.1 536.2 208.7 539.9 209.1C543.6 209.5 546.4 210.3 548.9 211.7C551.4 213.0 553.2 214.9 554.7 217.2C556.2 219.5 557.2 222.2 557.7 225.6C558.2 228.9 557.9 233.6 558.0 237.3C558.1 241.0 558.1 243.7 558.2 247.6C558.3 251.5 558.5 257.1 558.6 260.6C558.7 264.1 558.7 266.1 559.0 268.8Z" transform="translate(-0.9,0.1) rotate(51.4286 604.5 169.7)" fill="#2d9a00" fill-opacity="0.3" stroke="none"/><path d="M559.0 268.8C559.3 271.5 559.3 273.3 560.3 277.0C561.3 280.7 563.0 286.6 564.9 291.1C566.8 295.6 569.1 300.0 571.8 304.0C574.5 308.0 577.7 311.8 581.3 315.1C584.9 318.4 589.0 321.4 593.4 323.7C597.8 326.0 602.6 327.8 607.5 328.8C612.4 329.8 617.6 330.2 622.6 329.8C627.6 329.4 632.7 328.4 637.4 326.6C642.1 324.9 646.6 322.3 650.6 319.3C654.6 316.3 658.3 312.7 661.4 308.8C664.5 304.9 667.0 300.5 669.0 296.0C671.0 291.5 672.4 286.7 673.4 281.9C674.4 277.1 674.6 272.3 674.9 267.0C675.1 261.7 675.0 254.1 674.9 250.0C674.8 245.9 674.4 245.1 674.0 242.5C673.6 239.9 672.9 236.6 672.5 234.3C672.1 232.0 671.9 230.9 671.7 228.9C671.6 226.9 671.4 224.4 671.6 222.6C671.8 220.8 672.0 219.1 672.8 218.0C673.6 216.9 675.0 216.3 676.3 215.9C677.5 215.5 678.6 215.7 680.3 215.5C681.9 215.3 684.0 215.2 686.2 215.0C688.4 214.8 691.4 214.4 693.5 214.0C695.6 213.6 697.2 213.4 698.9 212.6C700.5 211.8 702.4 210.5 703.4 209.0C704.4 207.5 705.5 205.9 705.1 203.6C704.7 201.3 702.8 198.2 700.7 195.4C698.6 192.6 694.4 189.4 692.6 186.8C690.8 184.2 690.5 181.8 689.9 180.0C689.3 178.2 689.2 177.5 689.3 176.3C689.4 175.1 690.0 173.7 690.7 172.6C691.5 171.5 692.4 171.0 693.8 170.0C695.2 169.0 696.9 168.0 699.0 166.4C701.1 164.8 704.5 162.5 706.3 160.7C708.1 158.9 709.2 157.1 709.9 155.5C710.6 153.9 710.8 152.8 710.6 151.4C710.4 150.0 710.0 148.6 708.8 147.3C707.5 146.0 705.2 144.7 703.1 143.6C701.0 142.5 698.3 141.5 695.9 140.8C693.5 140.1 692.8 139.9 688.7 139.5C684.6 139.1 676.1 138.8 671.1 138.5C666.1 138.2 662.0 138.1 658.6 138.0C655.2 137.9 654.1 138.2 650.6 137.8C647.1 137.4 641.5 137.0 637.6 135.6C633.7 134.2 630.4 132.0 627.3 129.2C624.2 126.4 621.3 122.0 618.9 118.8C616.5 115.6 614.6 113.2 613.0 109.8C611.4 106.3 610.7 102.0 609.2 98.1C607.7 94.2 605.5 89.5 604.0 86.5C602.5 83.5 602.2 82.6 600.2 80.0C598.2 77.4 594.2 73.6 591.7 70.8C589.2 68.0 587.4 65.2 585.3 63.0C583.1 60.9 581.0 59.3 578.8 57.9C576.6 56.5 574.9 55.4 572.3 54.4C569.7 53.4 566.3 51.8 563.3 51.8C560.3 51.8 556.9 52.6 554.2 54.4C551.5 56.2 548.9 59.2 547.1 62.4C545.3 65.6 544.1 69.2 543.2 73.4C542.3 77.6 542.0 84.1 541.9 87.6C541.8 91.1 542.2 92.0 542.6 94.5C543.0 97.0 543.5 99.9 544.0 102.6C544.5 105.3 545.2 108.1 545.8 110.8C546.4 113.5 547.0 116.2 547.6 118.9C548.2 121.6 549.0 124.5 549.4 127.1C549.8 129.7 550.1 132.3 549.9 134.3C549.7 136.3 548.9 137.6 548.0 138.9C547.1 140.2 545.8 141.2 544.4 142.0C543.0 142.8 541.2 143.3 539.9 143.6C538.5 143.9 538.3 143.6 536.3 144.0C534.3 144.4 530.5 145.3 528.1 145.9C525.7 146.5 524.5 146.7 521.8 147.5C519.1 148.3 515.5 149.7 512.1 150.8C508.8 152.0 504.9 153.1 501.7 154.4C498.5 155.8 495.5 157.1 492.7 158.9C489.9 160.7 486.9 162.5 484.9 165.0C482.8 167.5 481.3 170.9 480.4 174.0C479.5 177.1 479.1 180.6 479.5 183.7C479.9 186.8 481.2 190.2 483.0 192.8C484.8 195.4 487.8 197.6 490.1 199.3C492.4 201.0 493.8 201.8 496.6 203.1C499.4 204.4 503.4 206.1 506.9 207.0C510.3 207.9 514.0 208.5 517.3 208.8C520.6 209.2 523.1 209.1 526.9 209.1C530.7 209.1 536.2 208.7 539.9 209.1C543.6 209.5 546.4 210.3 548.9 211.7C551.4 213.0 553.2 214.9 554.7 217.2C556.2 219.5 557.2 222.2 557.7 225.6C558.2 228.9 557.9 233.6 558.0 237.3C558.1 241.0 558.1 243.7 558.2 247.6C558.3 251.5 558.5 257.1 558.6 260.6C558.7 264.1 558.7 266.1 559.0 268.8Z" transform="translate(2.5,3.0) rotate(102.8571 604.5 169.7)" fill="#ffcd3a" fill-opacity="0.3" stroke="none"/><path d="M559.0 268.8C559.3 271.5 559.3 273.3 560.3 277.0C561.3 280.7 563.0 286.6 564.9 291.1C566.8 295.6 569.1 300.0 571.8 304.0C574.5 308.0 577.7 311.8 581.3 315.1C584.9 318.4 589.0 321.4 593.4 323.7C597.8 326.0 602.6 327.8 607.5 328.8C612.4 329.8 617.6 330.2 622.6 329.8C627.6 329.4 632.7 328.4 637.4 326.6C642.1 324.9 646.6 322.3 650.6 319.3C654.6 316.3 658.3 312.7 661.4 308.8C664.5 304.9 667.0 300.5 669.0 296.0C671.0 291.5 672.4 286.7 673.4 281.9C674.4 277.1 674.6 272.3 674.9 267.0C675.1 261.7 675.0 254.1 674.9 250.0C674.8 245.9 674.4 245.1 674.0 242.5C673.6 239.9 672.9 236.6 672.5 234.3C672.1 232.0 671.9 230.9 671.7 228.9C671.6 226.9 671.4 224.4 671.6 222.6C671.8 220.8 672.0 219.1 672.8 218.0C673.6 216.9 675.0 216.3 676.3 215.9C677.5 215.5 678.6 215.7 680.3 215.5C681.9 215.3 684.0 215.2 686.2 215.0C688.4 214.8 691.4 214.4 693.5 214.0C695.6 213.6 697.2 213.4 698.9 212.6C700.5 211.8 702.4 210.5 703.4 209.0C704.4 207.5 705.5 205.9 705.1 203.6C704.7 201.3 702.8 198.2 700.7 195.4C698.6 192.6 694.4 189.4 692.6 186.8C690.8 184.2 690.5 181.8 689.9 180.0C689.3 178.2 689.2 177.5 689.3 176.3C689.4 175.1 690.0 173.7 690.7 172.6C691.5 171.5 692.4 171.0 693.8 170.0C695.2 169.0 696.9 168.0 699.0 166.4C701.1 164.8 704.5 162.5 706.3 160.7C708.1 158.9 709.2 157.1 709.9 155.5C710.6 153.9 710.8 152.8 710.6 151.4C710.4 150.0 710.0 148.6 708.8 147.3C707.5 146.0 705.2 144.7 703.1 143.6C701.0 142.5 698.3 141.5 695.9 140.8C693.5 140.1 692.8 139.9 688.7 139.5C684.6 139.1 676.1 138.8 671.1 138.5C666.1 138.2 662.0 138.1 658.6 138.0C655.2 137.9 654.1 138.2 650.6 137.8C647.1 137.4 641.5 137.0 637.6 135.6C633.7 134.2 630.4 132.0 627.3 129.2C624.2 126.4 621.3 122.0 618.9 118.8C616.5 115.6 614.6 113.2 613.0 109.8C611.4 106.3 610.7 102.0 609.2 98.1C607.7 94.2 605.5 89.5 604.0 86.5C602.5 83.5 602.2 82.6 600.2 80.0C598.2 77.4 594.2 73.6 591.7 70.8C589.2 68.0 587.4 65.2 585.3 63.0C583.1 60.9 581.0 59.3 578.8 57.9C576.6 56.5 574.9 55.4 572.3 54.4C569.7 53.4 566.3 51.8 563.3 51.8C560.3 51.8 556.9 52.6 554.2 54.4C551.5 56.2 548.9 59.2 547.1 62.4C545.3 65.6 544.1 69.2 543.2 73.4C542.3 77.6 542.0 84.1 541.9 87.6C541.8 91.1 542.2 92.0 542.6 94.5C543.0 97.0 543.5 99.9 544.0 102.6C544.5 105.3 545.2 108.1 545.8 110.8C546.4 113.5 547.0 116.2 547.6 118.9C548.2 121.6 549.0 124.5 549.4 127.1C549.8 129.7 550.1 132.3 549.9 134.3C549.7 136.3 548.9 137.6 548.0 138.9C547.1 140.2 545.8 141.2 544.4 142.0C543.0 142.8 541.2 143.3 539.9 143.6C538.5 143.9 538.3 143.6 536.3 144.0C534.3 144.4 530.5 145.3 528.1 145.9C525.7 146.5 524.5 146.7 521.8 147.5C519.1 148.3 515.5 149.7 512.1 150.8C508.8 152.0 504.9 153.1 501.7 154.4C498.5 155.8 495.5 157.1 492.7 158.9C489.9 160.7 486.9 162.5 484.9 165.0C482.8 167.5 481.3 170.9 480.4 174.0C479.5 177.1 479.1 180.6 479.5 183.7C479.9 186.8 481.2 190.2 483.0 192.8C484.8 195.4 487.8 197.6 490.1 199.3C492.4 201.0 493.8 201.8 496.6 203.1C499.4 204.4 503.4 206.1 506.9 207.0C510.3 207.9 514.0 208.5 517.3 208.8C520.6 209.2 523.1 209.1 526.9 209.1C530.7 209.1 536.2 208.7 539.9 209.1C543.6 209.5 546.4 210.3 548.9 211.7C551.4 213.0 553.2 214.9 554.7 217.2C556.2 219.5 557.2 222.2 557.7 225.6C558.2 228.9 557.9 233.6 558.0 237.3C558.1 241.0 558.1 243.7 558.2 247.6C558.3 251.5 558.5 257.1 558.6 260.6C558.7 264.1 558.7 266.1 559.0 268.8Z" transform="translate(0,0) rotate(0.0000 604.5 169.7)" fill="none" stroke="#0a0a0a" stroke-width="0.850"/><path d="M559.0 268.8C559.3 271.5 559.3 273.3 560.3 277.0C561.3 280.7 563.0 286.6 564.9 291.1C566.8 295.6 569.1 300.0 571.8 304.0C574.5 308.0 577.7 311.8 581.3 315.1C584.9 318.4 589.0 321.4 593.4 323.7C597.8 326.0 602.6 327.8 607.5 328.8C612.4 329.8 617.6 330.2 622.6 329.8C627.6 329.4 632.7 328.4 637.4 326.6C642.1 324.9 646.6 322.3 650.6 319.3C654.6 316.3 658.3 312.7 661.4 308.8C664.5 304.9 667.0 300.5 669.0 296.0C671.0 291.5 672.4 286.7 673.4 281.9C674.4 277.1 674.6 272.3 674.9 267.0C675.1 261.7 675.0 254.1 674.9 250.0C674.8 245.9 674.4 245.1 674.0 242.5C673.6 239.9 672.9 236.6 672.5 234.3C672.1 232.0 671.9 230.9 671.7 228.9C671.6 226.9 671.4 224.4 671.6 222.6C671.8 220.8 672.0 219.1 672.8 218.0C673.6 216.9 675.0 216.3 676.3 215.9C677.5 215.5 678.6 215.7 680.3 215.5C681.9 215.3 684.0 215.2 686.2 215.0C688.4 214.8 691.4 214.4 693.5 214.0C695.6 213.6 697.2 213.4 698.9 212.6C700.5 211.8 702.4 210.5 703.4 209.0C704.4 207.5 705.5 205.9 705.1 203.6C704.7 201.3 702.8 198.2 700.7 195.4C698.6 192.6 694.4 189.4 692.6 186.8C690.8 184.2 690.5 181.8 689.9 180.0C689.3 178.2 689.2 177.5 689.3 176.3C689.4 175.1 690.0 173.7 690.7 172.6C691.5 171.5 692.4 171.0 693.8 170.0C695.2 169.0 696.9 168.0 699.0 166.4C701.1 164.8 704.5 162.5 706.3 160.7C708.1 158.9 709.2 157.1 709.9 155.5C710.6 153.9 710.8 152.8 710.6 151.4C710.4 150.0 710.0 148.6 708.8 147.3C707.5 146.0 705.2 144.7 703.1 143.6C701.0 142.5 698.3 141.5 695.9 140.8C693.5 140.1 692.8 139.9 688.7 139.5C684.6 139.1 676.1 138.8 671.1 138.5C666.1 138.2 662.0 138.1 658.6 138.0C655.2 137.9 654.1 138.2 650.6 137.8C647.1 137.4 641.5 137.0 637.6 135.6C633.7 134.2 630.4 132.0 627.3 129.2C624.2 126.4 621.3 122.0 618.9 118.8C616.5 115.6 614.6 113.2 613.0 109.8C611.4 106.3 610.7 102.0 609.2 98.1C607.7 94.2 605.5 89.5 604.0 86.5C602.5 83.5 602.2 82.6 600.2 80.0C598.2 77.4 594.2 73.6 591.7 70.8C589.2 68.0 587.4 65.2 585.3 63.0C583.1 60.9 581.0 59.3 578.8 57.9C576.6 56.5 574.9 55.4 572.3 54.4C569.7 53.4 566.3 51.8 563.3 51.8C560.3 51.8 556.9 52.6 554.2 54.4C551.5 56.2 548.9 59.2 547.1 62.4C545.3 65.6 544.1 69.2 543.2 73.4C542.3 77.6 542.0 84.1 541.9 87.6C541.8 91.1 542.2 92.0 542.6 94.5C543.0 97.0 543.5 99.9 544.0 102.6C544.5 105.3 545.2 108.1 545.8 110.8C546.4 113.5 547.0 116.2 547.6 118.9C548.2 121.6 549.0 124.5 549.4 127.1C549.8 129.7 550.1 132.3 549.9 134.3C549.7 136.3 548.9 137.6 548.0 138.9C547.1 140.2 545.8 141.2 544.4 142.0C543.0 142.8 541.2 143.3 539.9 143.6C538.5 143.9 538.3 143.6 536.3 144.0C534.3 144.4 530.5 145.3 528.1 145.9C525.7 146.5 524.5 146.7 521.8 147.5C519.1 148.3 515.5 149.7 512.1 150.8C508.8 152.0 504.9 153.1 501.7 154.4C498.5 155.8 495.5 157.1 492.7 158.9C489.9 160.7 486.9 162.5 484.9 165.0C482.8 167.5 481.3 170.9 480.4 174.0C479.5 177.1 479.1 180.6 479.5 183.7C479.9 186.8 481.2 190.2 483.0 192.8C484.8 195.4 487.8 197.6 490.1 199.3C492.4 201.0 493.8 201.8 496.6 203.1C499.4 204.4 503.4 206.1 506.9 207.0C510.3 207.9 514.0 208.5 517.3 208.8C520.6 209.2 523.1 209.1 526.9 209.1C530.7 209.1 536.2 208.7 539.9 209.1C543.6 209.5 546.4 210.3 548.9 211.7C551.4 213.0 553.2 214.9 554.7 217.2C556.2 219.5 557.2 222.2 557.7 225.6C558.2 228.9 557.9 233.6 558.0 237.3C558.1 241.0 558.1 243.7 558.2 247.6C558.3 251.5 558.5 257.1 558.6 260.6C558.7 264.1 558.7 266.1 559.0 268.8Z" transform="translate(-0.9,0.1) rotate(51.4286 604.5 169.7)" fill="none" stroke="#0a0a0a" stroke-width="0.850"/><path d="M559.0 268.8C559.3 271.5 559.3 273.3 560.3 277.0C561.3 280.7 563.0 286.6 564.9 291.1C566.8 295.6 569.1 300.0 571.8 304.0C574.5 308.0 577.7 311.8 581.3 315.1C584.9 318.4 589.0 321.4 593.4 323.7C597.8 326.0 602.6 327.8 607.5 328.8C612.4 329.8 617.6 330.2 622.6 329.8C627.6 329.4 632.7 328.4 637.4 326.6C642.1 324.9 646.6 322.3 650.6 319.3C654.6 316.3 658.3 312.7 661.4 308.8C664.5 304.9 667.0 300.5 669.0 296.0C671.0 291.5 672.4 286.7 673.4 281.9C674.4 277.1 674.6 272.3 674.9 267.0C675.1 261.7 675.0 254.1 674.9 250.0C674.8 245.9 674.4 245.1 674.0 242.5C673.6 239.9 672.9 236.6 672.5 234.3C672.1 232.0 671.9 230.9 671.7 228.9C671.6 226.9 671.4 224.4 671.6 222.6C671.8 220.8 672.0 219.1 672.8 218.0C673.6 216.9 675.0 216.3 676.3 215.9C677.5 215.5 678.6 215.7 680.3 215.5C681.9 215.3 684.0 215.2 686.2 215.0C688.4 214.8 691.4 214.4 693.5 214.0C695.6 213.6 697.2 213.4 698.9 212.6C700.5 211.8 702.4 210.5 703.4 209.0C704.4 207.5 705.5 205.9 705.1 203.6C704.7 201.3 702.8 198.2 700.7 195.4C698.6 192.6 694.4 189.4 692.6 186.8C690.8 184.2 690.5 181.8 689.9 180.0C689.3 178.2 689.2 177.5 689.3 176.3C689.4 175.1 690.0 173.7 690.7 172.6C691.5 171.5 692.4 171.0 693.8 170.0C695.2 169.0 696.9 168.0 699.0 166.4C701.1 164.8 704.5 162.5 706.3 160.7C708.1 158.9 709.2 157.1 709.9 155.5C710.6 153.9 710.8 152.8 710.6 151.4C710.4 150.0 710.0 148.6 708.8 147.3C707.5 146.0 705.2 144.7 703.1 143.6C701.0 142.5 698.3 141.5 695.9 140.8C693.5 140.1 692.8 139.9 688.7 139.5C684.6 139.1 676.1 138.8 671.1 138.5C666.1 138.2 662.0 138.1 658.6 138.0C655.2 137.9 654.1 138.2 650.6 137.8C647.1 137.4 641.5 137.0 637.6 135.6C633.7 134.2 630.4 132.0 627.3 129.2C624.2 126.4 621.3 122.0 618.9 118.8C616.5 115.6 614.6 113.2 613.0 109.8C611.4 106.3 610.7 102.0 609.2 98.1C607.7 94.2 605.5 89.5 604.0 86.5C602.5 83.5 602.2 82.6 600.2 80.0C598.2 77.4 594.2 73.6 591.7 70.8C589.2 68.0 587.4 65.2 585.3 63.0C583.1 60.9 581.0 59.3 578.8 57.9C576.6 56.5 574.9 55.4 572.3 54.4C569.7 53.4 566.3 51.8 563.3 51.8C560.3 51.8 556.9 52.6 554.2 54.4C551.5 56.2 548.9 59.2 547.1 62.4C545.3 65.6 544.1 69.2 543.2 73.4C542.3 77.6 542.0 84.1 541.9 87.6C541.8 91.1 542.2 92.0 542.6 94.5C543.0 97.0 543.5 99.9 544.0 102.6C544.5 105.3 545.2 108.1 545.8 110.8C546.4 113.5 547.0 116.2 547.6 118.9C548.2 121.6 549.0 124.5 549.4 127.1C549.8 129.7 550.1 132.3 549.9 134.3C549.7 136.3 548.9 137.6 548.0 138.9C547.1 140.2 545.8 141.2 544.4 142.0C543.0 142.8 541.2 143.3 539.9 143.6C538.5 143.9 538.3 143.6 536.3 144.0C534.3 144.4 530.5 145.3 528.1 145.9C525.7 146.5 524.5 146.7 521.8 147.5C519.1 148.3 515.5 149.7 512.1 150.8C508.8 152.0 504.9 153.1 501.7 154.4C498.5 155.8 495.5 157.1 492.7 158.9C489.9 160.7 486.9 162.5 484.9 165.0C482.8 167.5 481.3 170.9 480.4 174.0C479.5 177.1 479.1 180.6 479.5 183.7C479.9 186.8 481.2 190.2 483.0 192.8C484.8 195.4 487.8 197.6 490.1 199.3C492.4 201.0 493.8 201.8 496.6 203.1C499.4 204.4 503.4 206.1 506.9 207.0C510.3 207.9 514.0 208.5 517.3 208.8C520.6 209.2 523.1 209.1 526.9 209.1C530.7 209.1 536.2 208.7 539.9 209.1C543.6 209.5 546.4 210.3 548.9 211.7C551.4 213.0 553.2 214.9 554.7 217.2C556.2 219.5 557.2 222.2 557.7 225.6C558.2 228.9 557.9 233.6 558.0 237.3C558.1 241.0 558.1 243.7 558.2 247.6C558.3 251.5 558.5 257.1 558.6 260.6C558.7 264.1 558.7 266.1 559.0 268.8Z" transform="translate(2.5,3.0) rotate(102.8571 604.5 169.7)" fill="none" stroke="#0a0a0a" stroke-width="0.850"/><path d="M559.0 268.8C559.3 271.5 559.3 273.3 560.3 277.0C561.3 280.7 563.0 286.6 564.9 291.1C566.8 295.6 569.1 300.0 571.8 304.0C574.5 308.0 577.7 311.8 581.3 315.1C584.9 318.4 589.0 321.4 593.4 323.7C597.8 326.0 602.6 327.8 607.5 328.8C612.4 329.8 617.6 330.2 622.6 329.8C627.6 329.4 632.7 328.4 637.4 326.6C642.1 324.9 646.6 322.3 650.6 319.3C654.6 316.3 658.3 312.7 661.4 308.8C664.5 304.9 667.0 300.5 669.0 296.0C671.0 291.5 672.4 286.7 673.4 281.9C674.4 277.1 674.6 272.3 674.9 267.0C675.1 261.7 675.0 254.1 674.9 250.0C674.8 245.9 674.4 245.1 674.0 242.5C673.6 239.9 672.9 236.6 672.5 234.3C672.1 232.0 671.9 230.9 671.7 228.9C671.6 226.9 671.4 224.4 671.6 222.6C671.8 220.8 672.0 219.1 672.8 218.0C673.6 216.9 675.0 216.3 676.3 215.9C677.5 215.5 678.6 215.7 680.3 215.5C681.9 215.3 684.0 215.2 686.2 215.0C688.4 214.8 691.4 214.4 693.5 214.0C695.6 213.6 697.2 213.4 698.9 212.6C700.5 211.8 702.4 210.5 703.4 209.0C704.4 207.5 705.5 205.9 705.1 203.6C704.7 201.3 702.8 198.2 700.7 195.4C698.6 192.6 694.4 189.4 692.6 186.8C690.8 184.2 690.5 181.8 689.9 180.0C689.3 178.2 689.2 177.5 689.3 176.3C689.4 175.1 690.0 173.7 690.7 172.6C691.5 171.5 692.4 171.0 693.8 170.0C695.2 169.0 696.9 168.0 699.0 166.4C701.1 164.8 704.5 162.5 706.3 160.7C708.1 158.9 709.2 157.1 709.9 155.5C710.6 153.9 710.8 152.8 710.6 151.4C710.4 150.0 710.0 148.6 708.8 147.3C707.5 146.0 705.2 144.7 703.1 143.6C701.0 142.5 698.3 141.5 695.9 140.8C693.5 140.1 692.8 139.9 688.7 139.5C684.6 139.1 676.1 138.8 671.1 138.5C666.1 138.2 662.0 138.1 658.6 138.0C655.2 137.9 654.1 138.2 650.6 137.8C647.1 137.4 641.5 137.0 637.6 135.6C633.7 134.2 630.4 132.0 627.3 129.2C624.2 126.4 621.3 122.0 618.9 118.8C616.5 115.6 614.6 113.2 613.0 109.8C611.4 106.3 610.7 102.0 609.2 98.1C607.7 94.2 605.5 89.5 604.0 86.5C602.5 83.5 602.2 82.6 600.2 80.0C598.2 77.4 594.2 73.6 591.7 70.8C589.2 68.0 587.4 65.2 585.3 63.0C583.1 60.9 581.0 59.3 578.8 57.9C576.6 56.5 574.9 55.4 572.3 54.4C569.7 53.4 566.3 51.8 563.3 51.8C560.3 51.8 556.9 52.6 554.2 54.4C551.5 56.2 548.9 59.2 547.1 62.4C545.3 65.6 544.1 69.2 543.2 73.4C542.3 77.6 542.0 84.1 541.9 87.6C541.8 91.1 542.2 92.0 542.6 94.5C543.0 97.0 543.5 99.9 544.0 102.6C544.5 105.3 545.2 108.1 545.8 110.8C546.4 113.5 547.0 116.2 547.6 118.9C548.2 121.6 549.0 124.5 549.4 127.1C549.8 129.7 550.1 132.3 549.9 134.3C549.7 136.3 548.9 137.6 548.0 138.9C547.1 140.2 545.8 141.2 544.4 142.0C543.0 142.8 541.2 143.3 539.9 143.6C538.5 143.9 538.3 143.6 536.3 144.0C534.3 144.4 530.5 145.3 528.1 145.9C525.7 146.5 524.5 146.7 521.8 147.5C519.1 148.3 515.5 149.7 512.1 150.8C508.8 152.0 504.9 153.1 501.7 154.4C498.5 155.8 495.5 157.1 492.7 158.9C489.9 160.7 486.9 162.5 484.9 165.0C482.8 167.5 481.3 170.9 480.4 174.0C479.5 177.1 479.1 180.6 479.5 183.7C479.9 186.8 481.2 190.2 483.0 192.8C484.8 195.4 487.8 197.6 490.1 199.3C492.4 201.0 493.8 201.8 496.6 203.1C499.4 204.4 503.4 206.1 506.9 207.0C510.3 207.9 514.0 208.5 517.3 208.8C520.6 209.2 523.1 209.1 526.9 209.1C530.7 209.1 536.2 208.7 539.9 209.1C543.6 209.5 546.4 210.3 548.9 211.7C551.4 213.0 553.2 214.9 554.7 217.2C556.2 219.5 557.2 222.2 557.7 225.6C558.2 228.9 557.9 233.6 558.0 237.3C558.1 241.0 558.1 243.7 558.2 247.6C558.3 251.5 558.5 257.1 558.6 260.6C558.7 264.1 558.7 266.1 559.0 268.8Z" transform="translate(1.1,-0.7) rotate(154.2857 604.5 169.7)" fill="none" stroke="#0a0a0a" stroke-width="0.850"/><path d="M559.0 268.8C559.3 271.5 559.3 273.3 560.3 277.0C561.3 280.7 563.0 286.6 564.9 291.1C566.8 295.6 569.1 300.0 571.8 304.0C574.5 308.0 577.7 311.8 581.3 315.1C584.9 318.4 589.0 321.4 593.4 323.7C597.8 326.0 602.6 327.8 607.5 328.8C612.4 329.8 617.6 330.2 622.6 329.8C627.6 329.4 632.7 328.4 637.4 326.6C642.1 324.9 646.6 322.3 650.6 319.3C654.6 316.3 658.3 312.7 661.4 308.8C664.5 304.9 667.0 300.5 669.0 296.0C671.0 291.5 672.4 286.7 673.4 281.9C674.4 277.1 674.6 272.3 674.9 267.0C675.1 261.7 675.0 254.1 674.9 250.0C674.8 245.9 674.4 245.1 674.0 242.5C673.6 239.9 672.9 236.6 672.5 234.3C672.1 232.0 671.9 230.9 671.7 228.9C671.6 226.9 671.4 224.4 671.6 222.6C671.8 220.8 672.0 219.1 672.8 218.0C673.6 216.9 675.0 216.3 676.3 215.9C677.5 215.5 678.6 215.7 680.3 215.5C681.9 215.3 684.0 215.2 686.2 215.0C688.4 214.8 691.4 214.4 693.5 214.0C695.6 213.6 697.2 213.4 698.9 212.6C700.5 211.8 702.4 210.5 703.4 209.0C704.4 207.5 705.5 205.9 705.1 203.6C704.7 201.3 702.8 198.2 700.7 195.4C698.6 192.6 694.4 189.4 692.6 186.8C690.8 184.2 690.5 181.8 689.9 180.0C689.3 178.2 689.2 177.5 689.3 176.3C689.4 175.1 690.0 173.7 690.7 172.6C691.5 171.5 692.4 171.0 693.8 170.0C695.2 169.0 696.9 168.0 699.0 166.4C701.1 164.8 704.5 162.5 706.3 160.7C708.1 158.9 709.2 157.1 709.9 155.5C710.6 153.9 710.8 152.8 710.6 151.4C710.4 150.0 710.0 148.6 708.8 147.3C707.5 146.0 705.2 144.7 703.1 143.6C701.0 142.5 698.3 141.5 695.9 140.8C693.5 140.1 692.8 139.9 688.7 139.5C684.6 139.1 676.1 138.8 671.1 138.5C666.1 138.2 662.0 138.1 658.6 138.0C655.2 137.9 654.1 138.2 650.6 137.8C647.1 137.4 641.5 137.0 637.6 135.6C633.7 134.2 630.4 132.0 627.3 129.2C624.2 126.4 621.3 122.0 618.9 118.8C616.5 115.6 614.6 113.2 613.0 109.8C611.4 106.3 610.7 102.0 609.2 98.1C607.7 94.2 605.5 89.5 604.0 86.5C602.5 83.5 602.2 82.6 600.2 80.0C598.2 77.4 594.2 73.6 591.7 70.8C589.2 68.0 587.4 65.2 585.3 63.0C583.1 60.9 581.0 59.3 578.8 57.9C576.6 56.5 574.9 55.4 572.3 54.4C569.7 53.4 566.3 51.8 563.3 51.8C560.3 51.8 556.9 52.6 554.2 54.4C551.5 56.2 548.9 59.2 547.1 62.4C545.3 65.6 544.1 69.2 543.2 73.4C542.3 77.6 542.0 84.1 541.9 87.6C541.8 91.1 542.2 92.0 542.6 94.5C543.0 97.0 543.5 99.9 544.0 102.6C544.5 105.3 545.2 108.1 545.8 110.8C546.4 113.5 547.0 116.2 547.6 118.9C548.2 121.6 549.0 124.5 549.4 127.1C549.8 129.7 550.1 132.3 549.9 134.3C549.7 136.3 548.9 137.6 548.0 138.9C547.1 140.2 545.8 141.2 544.4 142.0C543.0 142.8 541.2 143.3 539.9 143.6C538.5 143.9 538.3 143.6 536.3 144.0C534.3 144.4 530.5 145.3 528.1 145.9C525.7 146.5 524.5 146.7 521.8 147.5C519.1 148.3 515.5 149.7 512.1 150.8C508.8 152.0 504.9 153.1 501.7 154.4C498.5 155.8 495.5 157.1 492.7 158.9C489.9 160.7 486.9 162.5 484.9 165.0C482.8 167.5 481.3 170.9 480.4 174.0C479.5 177.1 479.1 180.6 479.5 183.7C479.9 186.8 481.2 190.2 483.0 192.8C484.8 195.4 487.8 197.6 490.1 199.3C492.4 201.0 493.8 201.8 496.6 203.1C499.4 204.4 503.4 206.1 506.9 207.0C510.3 207.9 514.0 208.5 517.3 208.8C520.6 209.2 523.1 209.1 526.9 209.1C530.7 209.1 536.2 208.7 539.9 209.1C543.6 209.5 546.4 210.3 548.9 211.7C551.4 213.0 553.2 214.9 554.7 217.2C556.2 219.5 557.2 222.2 557.7 225.6C558.2 228.9 557.9 233.6 558.0 237.3C558.1 241.0 558.1 243.7 558.2 247.6C558.3 251.5 558.5 257.1 558.6 260.6C558.7 264.1 558.7 266.1 559.0 268.8Z" transform="translate(-0.9,0.7) rotate(205.7143 604.5 169.7)" fill="none" stroke="#0a0a0a" stroke-width="0.850"/><path d="M559.0 268.8C559.3 271.5 559.3 273.3 560.3 277.0C561.3 280.7 563.0 286.6 564.9 291.1C566.8 295.6 569.1 300.0 571.8 304.0C574.5 308.0 577.7 311.8 581.3 315.1C584.9 318.4 589.0 321.4 593.4 323.7C597.8 326.0 602.6 327.8 607.5 328.8C612.4 329.8 617.6 330.2 622.6 329.8C627.6 329.4 632.7 328.4 637.4 326.6C642.1 324.9 646.6 322.3 650.6 319.3C654.6 316.3 658.3 312.7 661.4 308.8C664.5 304.9 667.0 300.5 669.0 296.0C671.0 291.5 672.4 286.7 673.4 281.9C674.4 277.1 674.6 272.3 674.9 267.0C675.1 261.7 675.0 254.1 674.9 250.0C674.8 245.9 674.4 245.1 674.0 242.5C673.6 239.9 672.9 236.6 672.5 234.3C672.1 232.0 671.9 230.9 671.7 228.9C671.6 226.9 671.4 224.4 671.6 222.6C671.8 220.8 672.0 219.1 672.8 218.0C673.6 216.9 675.0 216.3 676.3 215.9C677.5 215.5 678.6 215.7 680.3 215.5C681.9 215.3 684.0 215.2 686.2 215.0C688.4 214.8 691.4 214.4 693.5 214.0C695.6 213.6 697.2 213.4 698.9 212.6C700.5 211.8 702.4 210.5 703.4 209.0C704.4 207.5 705.5 205.9 705.1 203.6C704.7 201.3 702.8 198.2 700.7 195.4C698.6 192.6 694.4 189.4 692.6 186.8C690.8 184.2 690.5 181.8 689.9 180.0C689.3 178.2 689.2 177.5 689.3 176.3C689.4 175.1 690.0 173.7 690.7 172.6C691.5 171.5 692.4 171.0 693.8 170.0C695.2 169.0 696.9 168.0 699.0 166.4C701.1 164.8 704.5 162.5 706.3 160.7C708.1 158.9 709.2 157.1 709.9 155.5C710.6 153.9 710.8 152.8 710.6 151.4C710.4 150.0 710.0 148.6 708.8 147.3C707.5 146.0 705.2 144.7 703.1 143.6C701.0 142.5 698.3 141.5 695.9 140.8C693.5 140.1 692.8 139.9 688.7 139.5C684.6 139.1 676.1 138.8 671.1 138.5C666.1 138.2 662.0 138.1 658.6 138.0C655.2 137.9 654.1 138.2 650.6 137.8C647.1 137.4 641.5 137.0 637.6 135.6C633.7 134.2 630.4 132.0 627.3 129.2C624.2 126.4 621.3 122.0 618.9 118.8C616.5 115.6 614.6 113.2 613.0 109.8C611.4 106.3 610.7 102.0 609.2 98.1C607.7 94.2 605.5 89.5 604.0 86.5C602.5 83.5 602.2 82.6 600.2 80.0C598.2 77.4 594.2 73.6 591.7 70.8C589.2 68.0 587.4 65.2 585.3 63.0C583.1 60.9 581.0 59.3 578.8 57.9C576.6 56.5 574.9 55.4 572.3 54.4C569.7 53.4 566.3 51.8 563.3 51.8C560.3 51.8 556.9 52.6 554.2 54.4C551.5 56.2 548.9 59.2 547.1 62.4C545.3 65.6 544.1 69.2 543.2 73.4C542.3 77.6 542.0 84.1 541.9 87.6C541.8 91.1 542.2 92.0 542.6 94.5C543.0 97.0 543.5 99.9 544.0 102.6C544.5 105.3 545.2 108.1 545.8 110.8C546.4 113.5 547.0 116.2 547.6 118.9C548.2 121.6 549.0 124.5 549.4 127.1C549.8 129.7 550.1 132.3 549.9 134.3C549.7 136.3 548.9 137.6 548.0 138.9C547.1 140.2 545.8 141.2 544.4 142.0C543.0 142.8 541.2 143.3 539.9 143.6C538.5 143.9 538.3 143.6 536.3 144.0C534.3 144.4 530.5 145.3 528.1 145.9C525.7 146.5 524.5 146.7 521.8 147.5C519.1 148.3 515.5 149.7 512.1 150.8C508.8 152.0 504.9 153.1 501.7 154.4C498.5 155.8 495.5 157.1 492.7 158.9C489.9 160.7 486.9 162.5 484.9 165.0C482.8 167.5 481.3 170.9 480.4 174.0C479.5 177.1 479.1 180.6 479.5 183.7C479.9 186.8 481.2 190.2 483.0 192.8C484.8 195.4 487.8 197.6 490.1 199.3C492.4 201.0 493.8 201.8 496.6 203.1C499.4 204.4 503.4 206.1 506.9 207.0C510.3 207.9 514.0 208.5 517.3 208.8C520.6 209.2 523.1 209.1 526.9 209.1C530.7 209.1 536.2 208.7 539.9 209.1C543.6 209.5 546.4 210.3 548.9 211.7C551.4 213.0 553.2 214.9 554.7 217.2C556.2 219.5 557.2 222.2 557.7 225.6C558.2 228.9 557.9 233.6 558.0 237.3C558.1 241.0 558.1 243.7 558.2 247.6C558.3 251.5 558.5 257.1 558.6 260.6C558.7 264.1 558.7 266.1 559.0 268.8Z" transform="translate(-0.2,-1.3) rotate(257.1429 604.5 169.7)" fill="none" stroke="#0a0a0a" stroke-width="0.850"/><path d="M559.0 268.8C559.3 271.5 559.3 273.3 560.3 277.0C561.3 280.7 563.0 286.6 564.9 291.1C566.8 295.6 569.1 300.0 571.8 304.0C574.5 308.0 577.7 311.8 581.3 315.1C584.9 318.4 589.0 321.4 593.4 323.7C597.8 326.0 602.6 327.8 607.5 328.8C612.4 329.8 617.6 330.2 622.6 329.8C627.6 329.4 632.7 328.4 637.4 326.6C642.1 324.9 646.6 322.3 650.6 319.3C654.6 316.3 658.3 312.7 661.4 308.8C664.5 304.9 667.0 300.5 669.0 296.0C671.0 291.5 672.4 286.7 673.4 281.9C674.4 277.1 674.6 272.3 674.9 267.0C675.1 261.7 675.0 254.1 674.9 250.0C674.8 245.9 674.4 245.1 674.0 242.5C673.6 239.9 672.9 236.6 672.5 234.3C672.1 232.0 671.9 230.9 671.7 228.9C671.6 226.9 671.4 224.4 671.6 222.6C671.8 220.8 672.0 219.1 672.8 218.0C673.6 216.9 675.0 216.3 676.3 215.9C677.5 215.5 678.6 215.7 680.3 215.5C681.9 215.3 684.0 215.2 686.2 215.0C688.4 214.8 691.4 214.4 693.5 214.0C695.6 213.6 697.2 213.4 698.9 212.6C700.5 211.8 702.4 210.5 703.4 209.0C704.4 207.5 705.5 205.9 705.1 203.6C704.7 201.3 702.8 198.2 700.7 195.4C698.6 192.6 694.4 189.4 692.6 186.8C690.8 184.2 690.5 181.8 689.9 180.0C689.3 178.2 689.2 177.5 689.3 176.3C689.4 175.1 690.0 173.7 690.7 172.6C691.5 171.5 692.4 171.0 693.8 170.0C695.2 169.0 696.9 168.0 699.0 166.4C701.1 164.8 704.5 162.5 706.3 160.7C708.1 158.9 709.2 157.1 709.9 155.5C710.6 153.9 710.8 152.8 710.6 151.4C710.4 150.0 710.0 148.6 708.8 147.3C707.5 146.0 705.2 144.7 703.1 143.6C701.0 142.5 698.3 141.5 695.9 140.8C693.5 140.1 692.8 139.9 688.7 139.5C684.6 139.1 676.1 138.8 671.1 138.5C666.1 138.2 662.0 138.1 658.6 138.0C655.2 137.9 654.1 138.2 650.6 137.8C647.1 137.4 641.5 137.0 637.6 135.6C633.7 134.2 630.4 132.0 627.3 129.2C624.2 126.4 621.3 122.0 618.9 118.8C616.5 115.6 614.6 113.2 613.0 109.8C611.4 106.3 610.7 102.0 609.2 98.1C607.7 94.2 605.5 89.5 604.0 86.5C602.5 83.5 602.2 82.6 600.2 80.0C598.2 77.4 594.2 73.6 591.7 70.8C589.2 68.0 587.4 65.2 585.3 63.0C583.1 60.9 581.0 59.3 578.8 57.9C576.6 56.5 574.9 55.4 572.3 54.4C569.7 53.4 566.3 51.8 563.3 51.8C560.3 51.8 556.9 52.6 554.2 54.4C551.5 56.2 548.9 59.2 547.1 62.4C545.3 65.6 544.1 69.2 543.2 73.4C542.3 77.6 542.0 84.1 541.9 87.6C541.8 91.1 542.2 92.0 542.6 94.5C543.0 97.0 543.5 99.9 544.0 102.6C544.5 105.3 545.2 108.1 545.8 110.8C546.4 113.5 547.0 116.2 547.6 118.9C548.2 121.6 549.0 124.5 549.4 127.1C549.8 129.7 550.1 132.3 549.9 134.3C549.7 136.3 548.9 137.6 548.0 138.9C547.1 140.2 545.8 141.2 544.4 142.0C543.0 142.8 541.2 143.3 539.9 143.6C538.5 143.9 538.3 143.6 536.3 144.0C534.3 144.4 530.5 145.3 528.1 145.9C525.7 146.5 524.5 146.7 521.8 147.5C519.1 148.3 515.5 149.7 512.1 150.8C508.8 152.0 504.9 153.1 501.7 154.4C498.5 155.8 495.5 157.1 492.7 158.9C489.9 160.7 486.9 162.5 484.9 165.0C482.8 167.5 481.3 170.9 480.4 174.0C479.5 177.1 479.1 180.6 479.5 183.7C479.9 186.8 481.2 190.2 483.0 192.8C484.8 195.4 487.8 197.6 490.1 199.3C492.4 201.0 493.8 201.8 496.6 203.1C499.4 204.4 503.4 206.1 506.9 207.0C510.3 207.9 514.0 208.5 517.3 208.8C520.6 209.2 523.1 209.1 526.9 209.1C530.7 209.1 536.2 208.7 539.9 209.1C543.6 209.5 546.4 210.3 548.9 211.7C551.4 213.0 553.2 214.9 554.7 217.2C556.2 219.5 557.2 222.2 557.7 225.6C558.2 228.9 557.9 233.6 558.0 237.3C558.1 241.0 558.1 243.7 558.2 247.6C558.3 251.5 558.5 257.1 558.6 260.6C558.7 264.1 558.7 266.1 559.0 268.8Z" transform="translate(0.1,0.8) rotate(308.5714 604.5 169.7)" fill="none" stroke="#0a0a0a" stroke-width="0.850"/><text x="531.3" y="57.1" font-size="5.4px" fill="#1c2430" text-anchor="middle">11</text><text x="590" y="57.7" font-size="5.4px" fill="#1c2430" text-anchor="middle">1</text><text x="561.6" y="65.9" font-size="5.4px" fill="#1c2430" text-anchor="middle">1</text><text x="583.2" y="74.0" font-size="5.4px" fill="#1c2430" text-anchor="middle">1</text><text x="565.8" y="80.4" font-size="5.4px" fill="#1c2430" text-anchor="middle">3</text><text x="578.3" y="88.3" font-size="5.4px" fill="#1c2430" text-anchor="middle">1</text><text x="535.9" y="101.7" font-size="5.4px" fill="#1c2430" text-anchor="middle">1</text><text x="569.3" y="105.5" font-size="5.4px" fill="#1c2430" text-anchor="middle">2</text><text x="588.2" y="117.3" font-size="5.4px" fill="#1c2430" text-anchor="middle">1</text><text x="494.1" y="142.9" font-size="5.4px" fill="#1c2430" text-anchor="middle">2</text><text x="509.3" y="146.6" font-size="5.4px" fill="#1c2430" text-anchor="middle">1</text><text x="516.3" y="156.9" font-size="5.4px" fill="#1c2430" text-anchor="middle">1</text><text x="551.1" y="151.7" font-size="5.4px" fill="#1c2430" text-anchor="middle">1</text><text x="470.8" y="160.9" font-size="5.4px" fill="#1c2430" text-anchor="middle">18</text><text x="606.5" y="171.9" font-size="5.4px" fill="#1c2430" text-anchor="middle">55</text><text x="646.6" y="43.5" font-size="5.4px" fill="#1c2430" text-anchor="middle">39</text><text x="621.6" y="59.3" font-size="5.4px" fill="#1c2430" text-anchor="middle">4</text><text x="618.3" y="73.8" font-size="5.4px" fill="#1c2430" text-anchor="middle">3</text><text x="659.4" y="70.7" font-size="5.4px" fill="#1c2430" text-anchor="middle">2</text><text x="625.1" y="86.8" font-size="5.4px" fill="#1c2430" text-anchor="middle">2</text><text x="668.6" y="93.4" font-size="5.4px" fill="#1c2430" text-anchor="middle">4</text><text x="683.8" y="89.6" font-size="5.4px" fill="#1c2430" text-anchor="middle">10</text><text x="653.4" y="98.9" font-size="5.4px" fill="#1c2430" text-anchor="middle">6</text><text x="636.3" y="102.2" font-size="5.4px" fill="#1c2430" text-anchor="middle">2</text><text x="667.7" y="107.2" font-size="5.4px" fill="#1c2430" text-anchor="middle">2</text><text x="680.3" y="106.6" font-size="5.4px" fill="#1c2430" text-anchor="middle">2</text><text x="657.4" y="117.6" font-size="5.4px" fill="#1c2430" text-anchor="middle">3</text><text x="636.7" y="124.2" font-size="5.4px" fill="#1c2430" text-anchor="middle">7</text><text x="674.8" y="122.0" font-size="5.4px" fill="#1c2430" text-anchor="middle">2</text><text x="689.1" y="122.0" font-size="5.4px" fill="#1c2430" text-anchor="middle">1</text><text x="704.5" y="115.1" font-size="5.4px" fill="#1c2430" text-anchor="middle">5</text><text x="732.6" y="123.1" font-size="5.4px" fill="#1c2430" text-anchor="middle">24</text><text x="684" y="135.2" font-size="5.4px" fill="#1c2430" text-anchor="middle">1</text><text x="717.9" y="153.2" font-size="5.4px" fill="#1c2430" text-anchor="middle">3</text><text x="692.4" y="164.9" font-size="5.4px" fill="#1c2430" text-anchor="middle">2</text><text x="682" y="179.8" font-size="5.4px" fill="#1c2430" text-anchor="middle">1</text><text x="695.2" y="180.4" font-size="5.4px" fill="#1c2430" text-anchor="middle">3</text><text x="718.3" y="182.3" font-size="5.4px" fill="#1c2430" text-anchor="middle">3</text><text x="703.8" y="189.7" font-size="5.4px" fill="#1c2430" text-anchor="middle">2</text><text x="521.4" y="204.9" font-size="5.4px" fill="#1c2430" text-anchor="middle">1</text><text x="554.6" y="203.1" font-size="5.4px" fill="#1c2430" text-anchor="middle">1</text><text x="525.3" y="230.2" font-size="5.4px" fill="#1c2430" text-anchor="middle">1</text><text x="536.1" y="231.3" font-size="5.4px" fill="#1c2430" text-anchor="middle">1</text><text x="513.2" y="239.0" font-size="5.4px" fill="#1c2430" text-anchor="middle">2</text><text x="534.8" y="245.8" font-size="5.4px" fill="#1c2430" text-anchor="middle">2</text><text x="550" y="241.2" font-size="5.4px" fill="#1c2430" text-anchor="middle">1</text><text x="564" y="235.2" font-size="5.4px" fill="#1c2430" text-anchor="middle">1</text><text x="599.2" y="230.4" font-size="5.4px" fill="#1c2430" text-anchor="middle">6</text><text x="577.9" y="258.3" font-size="5.4px" fill="#1c2430" text-anchor="middle">1</text><text x="593.3" y="258.1" font-size="5.4px" fill="#1c2430" text-anchor="middle">1</text><text x="600.3" y="270.4" font-size="5.4px" fill="#1c2430" text-anchor="middle">1</text><text x="508.8" y="268.9" font-size="5.4px" fill="#1c2430" text-anchor="middle">13</text><text x="542.7" y="268.2" font-size="5.4px" fill="#1c2430" text-anchor="middle">1</text><text x="600.3" y="286.3" font-size="5.4px" fill="#1c2430" text-anchor="middle">2</text><text x="674.8" y="197.9" font-size="5.4px" fill="#1c2430" text-anchor="middle">2</text><text x="689.1" y="195.7" font-size="5.4px" fill="#1c2430" text-anchor="middle">2</text><text x="683.6" y="209.7" font-size="5.4px" fill="#1c2430" text-anchor="middle">1</text><text x="698.3" y="207.1" font-size="5.4px" fill="#1c2430" text-anchor="middle">1</text><text x="712.2" y="212.1" font-size="5.4px" fill="#1c2430" text-anchor="middle">7</text><text x="645.1" y="215.0" font-size="5.4px" fill="#1c2430" text-anchor="middle">19</text><text x="678.5" y="225.3" font-size="5.4px" fill="#1c2430" text-anchor="middle">2</text><text x="647.9" y="235.7" font-size="5.4px" fill="#1c2430" text-anchor="middle">1</text><text x="628.6" y="243.8" font-size="5.4px" fill="#1c2430" text-anchor="middle">2</text><text x="668.2" y="251.1" font-size="5.4px" fill="#1c2430" text-anchor="middle">1</text><text x="690.2" y="247.8" font-size="5.4px" fill="#1c2430" text-anchor="middle">1</text><text x="720.5" y="243.8" font-size="5.4px" fill="#1c2430" text-anchor="middle">17</text><text x="653.2" y="261.6" font-size="5.4px" fill="#1c2430" text-anchor="middle">1</text><text x="620.2" y="273.1" font-size="5.4px" fill="#1c2430" text-anchor="middle">1</text><text x="641.1" y="280.8" font-size="5.4px" fill="#1c2430" text-anchor="middle">3</text><text x="621.3" y="307.3" font-size="5.4px" fill="#1c2430" text-anchor="middle">2</text></g>
<text x="486.7" y="24.6" font-size="10.1px" fill="#000">Collective</text><text x="643" y="16.1" font-size="10.1px" fill="#000">Individual</text><text x="726.9" y="82.8" font-size="10.1px" fill="#000">Industrial</text><text x="737.2" y="276.5" font-size="10.1px" fill="#000">Park</text><text x="623.8" y="338.3" font-size="10.1px" fill="#000">Road</text><text x="470.5" y="303" font-size="10.1px" fill="#000">School</text><text x="441.4" y="97.9" font-size="10.1px" fill="#000">Land</text><text x="441.4" y="111.7" font-size="10.1px" fill="#000">reserve</text>
<text x="438.3" y="22.8" font-size="16px" font-weight="bold" fill="#000">2</text>
<rect x="199.6" y="393.4" width="348.5" height="348.4" fill="#fff" stroke="none"/><path d="M199.6 741.8V393.4H548.1" fill="none" stroke="#333" stroke-width="1.2"/><path d="M548.1 393.4V741.8H199.6" fill="none" stroke="#777" stroke-width="1.3"/>
<g transform="translate(377.00,564.90) scale(1.0465,1.0364) translate(-604.5,-169.7)"><path d="M559.0 268.8C559.3 271.5 559.3 273.3 560.3 277.0C561.3 280.7 563.0 286.6 564.9 291.1C566.8 295.6 569.1 300.0 571.8 304.0C574.5 308.0 577.7 311.8 581.3 315.1C584.9 318.4 589.0 321.4 593.4 323.7C597.8 326.0 602.6 327.8 607.5 328.8C612.4 329.8 617.6 330.2 622.6 329.8C627.6 329.4 632.7 328.4 637.4 326.6C642.1 324.9 646.6 322.3 650.6 319.3C654.6 316.3 658.3 312.7 661.4 308.8C664.5 304.9 667.0 300.5 669.0 296.0C671.0 291.5 672.4 286.7 673.4 281.9C674.4 277.1 674.6 272.3 674.9 267.0C675.1 261.7 675.0 254.1 674.9 250.0C674.8 245.9 674.4 245.1 674.0 242.5C673.6 239.9 672.9 236.6 672.5 234.3C672.1 232.0 671.9 230.9 671.7 228.9C671.6 226.9 671.4 224.4 671.6 222.6C671.8 220.8 672.0 219.1 672.8 218.0C673.6 216.9 675.0 216.3 676.3 215.9C677.5 215.5 678.6 215.7 680.3 215.5C681.9 215.3 684.0 215.2 686.2 215.0C688.4 214.8 691.4 214.4 693.5 214.0C695.6 213.6 697.2 213.4 698.9 212.6C700.5 211.8 702.4 210.5 703.4 209.0C704.4 207.5 705.5 205.9 705.1 203.6C704.7 201.3 702.8 198.2 700.7 195.4C698.6 192.6 694.4 189.4 692.6 186.8C690.8 184.2 690.5 181.8 689.9 180.0C689.3 178.2 689.2 177.5 689.3 176.3C689.4 175.1 690.0 173.7 690.7 172.6C691.5 171.5 692.4 171.0 693.8 170.0C695.2 169.0 696.9 168.0 699.0 166.4C701.1 164.8 704.5 162.5 706.3 160.7C708.1 158.9 709.2 157.1 709.9 155.5C710.6 153.9 710.8 152.8 710.6 151.4C710.4 150.0 710.0 148.6 708.8 147.3C707.5 146.0 705.2 144.7 703.1 143.6C701.0 142.5 698.3 141.5 695.9 140.8C693.5 140.1 692.8 139.9 688.7 139.5C684.6 139.1 676.1 138.8 671.1 138.5C666.1 138.2 662.0 138.1 658.6 138.0C655.2 137.9 654.1 138.2 650.6 137.8C647.1 137.4 641.5 137.0 637.6 135.6C633.7 134.2 630.4 132.0 627.3 129.2C624.2 126.4 621.3 122.0 618.9 118.8C616.5 115.6 614.6 113.2 613.0 109.8C611.4 106.3 610.7 102.0 609.2 98.1C607.7 94.2 605.5 89.5 604.0 86.5C602.5 83.5 602.2 82.6 600.2 80.0C598.2 77.4 594.2 73.6 591.7 70.8C589.2 68.0 587.4 65.2 585.3 63.0C583.1 60.9 581.0 59.3 578.8 57.9C576.6 56.5 574.9 55.4 572.3 54.4C569.7 53.4 566.3 51.8 563.3 51.8C560.3 51.8 556.9 52.6 554.2 54.4C551.5 56.2 548.9 59.2 547.1 62.4C545.3 65.6 544.1 69.2 543.2 73.4C542.3 77.6 542.0 84.1 541.9 87.6C541.8 91.1 542.2 92.0 542.6 94.5C543.0 97.0 543.5 99.9 544.0 102.6C544.5 105.3 545.2 108.1 545.8 110.8C546.4 113.5 547.0 116.2 547.6 118.9C548.2 121.6 549.0 124.5 549.4 127.1C549.8 129.7 550.1 132.3 549.9 134.3C549.7 136.3 548.9 137.6 548.0 138.9C547.1 140.2 545.8 141.2 544.4 142.0C543.0 142.8 541.2 143.3 539.9 143.6C538.5 143.9 538.3 143.6 536.3 144.0C534.3 144.4 530.5 145.3 528.1 145.9C525.7 146.5 524.5 146.7 521.8 147.5C519.1 148.3 515.5 149.7 512.1 150.8C508.8 152.0 504.9 153.1 501.7 154.4C498.5 155.8 495.5 157.1 492.7 158.9C489.9 160.7 486.9 162.5 484.9 165.0C482.8 167.5 481.3 170.9 480.4 174.0C479.5 177.1 479.1 180.6 479.5 183.7C479.9 186.8 481.2 190.2 483.0 192.8C484.8 195.4 487.8 197.6 490.1 199.3C492.4 201.0 493.8 201.8 496.6 203.1C499.4 204.4 503.4 206.1 506.9 207.0C510.3 207.9 514.0 208.5 517.3 208.8C520.6 209.2 523.1 209.1 526.9 209.1C530.7 209.1 536.2 208.7 539.9 209.1C543.6 209.5 546.4 210.3 548.9 211.7C551.4 213.0 553.2 214.9 554.7 217.2C556.2 219.5 557.2 222.2 557.7 225.6C558.2 228.9 557.9 233.6 558.0 237.3C558.1 241.0 558.1 243.7 558.2 247.6C558.3 251.5 558.5 257.1 558.6 260.6C558.7 264.1 558.7 266.1 559.0 268.8Z" transform="translate(1.1,-0.7) rotate(154.2857 604.5 169.7)" fill="#ff6600" fill-opacity="0.3" stroke="none"/><path d="M559.0 268.8C559.3 271.5 559.3 273.3 560.3 277.0C561.3 280.7 563.0 286.6 564.9 291.1C566.8 295.6 569.1 300.0 571.8 304.0C574.5 308.0 577.7 311.8 581.3 315.1C584.9 318.4 589.0 321.4 593.4 323.7C597.8 326.0 602.6 327.8 607.5 328.8C612.4 329.8 617.6 330.2 622.6 329.8C627.6 329.4 632.7 328.4 637.4 326.6C642.1 324.9 646.6 322.3 650.6 319.3C654.6 316.3 658.3 312.7 661.4 308.8C664.5 304.9 667.0 300.5 669.0 296.0C671.0 291.5 672.4 286.7 673.4 281.9C674.4 277.1 674.6 272.3 674.9 267.0C675.1 261.7 675.0 254.1 674.9 250.0C674.8 245.9 674.4 245.1 674.0 242.5C673.6 239.9 672.9 236.6 672.5 234.3C672.1 232.0 671.9 230.9 671.7 228.9C671.6 226.9 671.4 224.4 671.6 222.6C671.8 220.8 672.0 219.1 672.8 218.0C673.6 216.9 675.0 216.3 676.3 215.9C677.5 215.5 678.6 215.7 680.3 215.5C681.9 215.3 684.0 215.2 686.2 215.0C688.4 214.8 691.4 214.4 693.5 214.0C695.6 213.6 697.2 213.4 698.9 212.6C700.5 211.8 702.4 210.5 703.4 209.0C704.4 207.5 705.5 205.9 705.1 203.6C704.7 201.3 702.8 198.2 700.7 195.4C698.6 192.6 694.4 189.4 692.6 186.8C690.8 184.2 690.5 181.8 689.9 180.0C689.3 178.2 689.2 177.5 689.3 176.3C689.4 175.1 690.0 173.7 690.7 172.6C691.5 171.5 692.4 171.0 693.8 170.0C695.2 169.0 696.9 168.0 699.0 166.4C701.1 164.8 704.5 162.5 706.3 160.7C708.1 158.9 709.2 157.1 709.9 155.5C710.6 153.9 710.8 152.8 710.6 151.4C710.4 150.0 710.0 148.6 708.8 147.3C707.5 146.0 705.2 144.7 703.1 143.6C701.0 142.5 698.3 141.5 695.9 140.8C693.5 140.1 692.8 139.9 688.7 139.5C684.6 139.1 676.1 138.8 671.1 138.5C666.1 138.2 662.0 138.1 658.6 138.0C655.2 137.9 654.1 138.2 650.6 137.8C647.1 137.4 641.5 137.0 637.6 135.6C633.7 134.2 630.4 132.0 627.3 129.2C624.2 126.4 621.3 122.0 618.9 118.8C616.5 115.6 614.6 113.2 613.0 109.8C611.4 106.3 610.7 102.0 609.2 98.1C607.7 94.2 605.5 89.5 604.0 86.5C602.5 83.5 602.2 82.6 600.2 80.0C598.2 77.4 594.2 73.6 591.7 70.8C589.2 68.0 587.4 65.2 585.3 63.0C583.1 60.9 581.0 59.3 578.8 57.9C576.6 56.5 574.9 55.4 572.3 54.4C569.7 53.4 566.3 51.8 563.3 51.8C560.3 51.8 556.9 52.6 554.2 54.4C551.5 56.2 548.9 59.2 547.1 62.4C545.3 65.6 544.1 69.2 543.2 73.4C542.3 77.6 542.0 84.1 541.9 87.6C541.8 91.1 542.2 92.0 542.6 94.5C543.0 97.0 543.5 99.9 544.0 102.6C544.5 105.3 545.2 108.1 545.8 110.8C546.4 113.5 547.0 116.2 547.6 118.9C548.2 121.6 549.0 124.5 549.4 127.1C549.8 129.7 550.1 132.3 549.9 134.3C549.7 136.3 548.9 137.6 548.0 138.9C547.1 140.2 545.8 141.2 544.4 142.0C543.0 142.8 541.2 143.3 539.9 143.6C538.5 143.9 538.3 143.6 536.3 144.0C534.3 144.4 530.5 145.3 528.1 145.9C525.7 146.5 524.5 146.7 521.8 147.5C519.1 148.3 515.5 149.7 512.1 150.8C508.8 152.0 504.9 153.1 501.7 154.4C498.5 155.8 495.5 157.1 492.7 158.9C489.9 160.7 486.9 162.5 484.9 165.0C482.8 167.5 481.3 170.9 480.4 174.0C479.5 177.1 479.1 180.6 479.5 183.7C479.9 186.8 481.2 190.2 483.0 192.8C484.8 195.4 487.8 197.6 490.1 199.3C492.4 201.0 493.8 201.8 496.6 203.1C499.4 204.4 503.4 206.1 506.9 207.0C510.3 207.9 514.0 208.5 517.3 208.8C520.6 209.2 523.1 209.1 526.9 209.1C530.7 209.1 536.2 208.7 539.9 209.1C543.6 209.5 546.4 210.3 548.9 211.7C551.4 213.0 553.2 214.9 554.7 217.2C556.2 219.5 557.2 222.2 557.7 225.6C558.2 228.9 557.9 233.6 558.0 237.3C558.1 241.0 558.1 243.7 558.2 247.6C558.3 251.5 558.5 257.1 558.6 260.6C558.7 264.1 558.7 266.1 559.0 268.8Z" transform="translate(-0.9,0.7) rotate(205.7143 604.5 169.7)" fill="#0091c6" fill-opacity="0.3" stroke="none"/><path d="M559.0 268.8C559.3 271.5 559.3 273.3 560.3 277.0C561.3 280.7 563.0 286.6 564.9 291.1C566.8 295.6 569.1 300.0 571.8 304.0C574.5 308.0 577.7 311.8 581.3 315.1C584.9 318.4 589.0 321.4 593.4 323.7C597.8 326.0 602.6 327.8 607.5 328.8C612.4 329.8 617.6 330.2 622.6 329.8C627.6 329.4 632.7 328.4 637.4 326.6C642.1 324.9 646.6 322.3 650.6 319.3C654.6 316.3 658.3 312.7 661.4 308.8C664.5 304.9 667.0 300.5 669.0 296.0C671.0 291.5 672.4 286.7 673.4 281.9C674.4 277.1 674.6 272.3 674.9 267.0C675.1 261.7 675.0 254.1 674.9 250.0C674.8 245.9 674.4 245.1 674.0 242.5C673.6 239.9 672.9 236.6 672.5 234.3C672.1 232.0 671.9 230.9 671.7 228.9C671.6 226.9 671.4 224.4 671.6 222.6C671.8 220.8 672.0 219.1 672.8 218.0C673.6 216.9 675.0 216.3 676.3 215.9C677.5 215.5 678.6 215.7 680.3 215.5C681.9 215.3 684.0 215.2 686.2 215.0C688.4 214.8 691.4 214.4 693.5 214.0C695.6 213.6 697.2 213.4 698.9 212.6C700.5 211.8 702.4 210.5 703.4 209.0C704.4 207.5 705.5 205.9 705.1 203.6C704.7 201.3 702.8 198.2 700.7 195.4C698.6 192.6 694.4 189.4 692.6 186.8C690.8 184.2 690.5 181.8 689.9 180.0C689.3 178.2 689.2 177.5 689.3 176.3C689.4 175.1 690.0 173.7 690.7 172.6C691.5 171.5 692.4 171.0 693.8 170.0C695.2 169.0 696.9 168.0 699.0 166.4C701.1 164.8 704.5 162.5 706.3 160.7C708.1 158.9 709.2 157.1 709.9 155.5C710.6 153.9 710.8 152.8 710.6 151.4C710.4 150.0 710.0 148.6 708.8 147.3C707.5 146.0 705.2 144.7 703.1 143.6C701.0 142.5 698.3 141.5 695.9 140.8C693.5 140.1 692.8 139.9 688.7 139.5C684.6 139.1 676.1 138.8 671.1 138.5C666.1 138.2 662.0 138.1 658.6 138.0C655.2 137.9 654.1 138.2 650.6 137.8C647.1 137.4 641.5 137.0 637.6 135.6C633.7 134.2 630.4 132.0 627.3 129.2C624.2 126.4 621.3 122.0 618.9 118.8C616.5 115.6 614.6 113.2 613.0 109.8C611.4 106.3 610.7 102.0 609.2 98.1C607.7 94.2 605.5 89.5 604.0 86.5C602.5 83.5 602.2 82.6 600.2 80.0C598.2 77.4 594.2 73.6 591.7 70.8C589.2 68.0 587.4 65.2 585.3 63.0C583.1 60.9 581.0 59.3 578.8 57.9C576.6 56.5 574.9 55.4 572.3 54.4C569.7 53.4 566.3 51.8 563.3 51.8C560.3 51.8 556.9 52.6 554.2 54.4C551.5 56.2 548.9 59.2 547.1 62.4C545.3 65.6 544.1 69.2 543.2 73.4C542.3 77.6 542.0 84.1 541.9 87.6C541.8 91.1 542.2 92.0 542.6 94.5C543.0 97.0 543.5 99.9 544.0 102.6C544.5 105.3 545.2 108.1 545.8 110.8C546.4 113.5 547.0 116.2 547.6 118.9C548.2 121.6 549.0 124.5 549.4 127.1C549.8 129.7 550.1 132.3 549.9 134.3C549.7 136.3 548.9 137.6 548.0 138.9C547.1 140.2 545.8 141.2 544.4 142.0C543.0 142.8 541.2 143.3 539.9 143.6C538.5 143.9 538.3 143.6 536.3 144.0C534.3 144.4 530.5 145.3 528.1 145.9C525.7 146.5 524.5 146.7 521.8 147.5C519.1 148.3 515.5 149.7 512.1 150.8C508.8 152.0 504.9 153.1 501.7 154.4C498.5 155.8 495.5 157.1 492.7 158.9C489.9 160.7 486.9 162.5 484.9 165.0C482.8 167.5 481.3 170.9 480.4 174.0C479.5 177.1 479.1 180.6 479.5 183.7C479.9 186.8 481.2 190.2 483.0 192.8C484.8 195.4 487.8 197.6 490.1 199.3C492.4 201.0 493.8 201.8 496.6 203.1C499.4 204.4 503.4 206.1 506.9 207.0C510.3 207.9 514.0 208.5 517.3 208.8C520.6 209.2 523.1 209.1 526.9 209.1C530.7 209.1 536.2 208.7 539.9 209.1C543.6 209.5 546.4 210.3 548.9 211.7C551.4 213.0 553.2 214.9 554.7 217.2C556.2 219.5 557.2 222.2 557.7 225.6C558.2 228.9 557.9 233.6 558.0 237.3C558.1 241.0 558.1 243.7 558.2 247.6C558.3 251.5 558.5 257.1 558.6 260.6C558.7 264.1 558.7 266.1 559.0 268.8Z" transform="translate(-0.2,-1.3) rotate(257.1429 604.5 169.7)" fill="#982e00" fill-opacity="0.3" stroke="none"/><path d="M559.0 268.8C559.3 271.5 559.3 273.3 560.3 277.0C561.3 280.7 563.0 286.6 564.9 291.1C566.8 295.6 569.1 300.0 571.8 304.0C574.5 308.0 577.7 311.8 581.3 315.1C584.9 318.4 589.0 321.4 593.4 323.7C597.8 326.0 602.6 327.8 607.5 328.8C612.4 329.8 617.6 330.2 622.6 329.8C627.6 329.4 632.7 328.4 637.4 326.6C642.1 324.9 646.6 322.3 650.6 319.3C654.6 316.3 658.3 312.7 661.4 308.8C664.5 304.9 667.0 300.5 669.0 296.0C671.0 291.5 672.4 286.7 673.4 281.9C674.4 277.1 674.6 272.3 674.9 267.0C675.1 261.7 675.0 254.1 674.9 250.0C674.8 245.9 674.4 245.1 674.0 242.5C673.6 239.9 672.9 236.6 672.5 234.3C672.1 232.0 671.9 230.9 671.7 228.9C671.6 226.9 671.4 224.4 671.6 222.6C671.8 220.8 672.0 219.1 672.8 218.0C673.6 216.9 675.0 216.3 676.3 215.9C677.5 215.5 678.6 215.7 680.3 215.5C681.9 215.3 684.0 215.2 686.2 215.0C688.4 214.8 691.4 214.4 693.5 214.0C695.6 213.6 697.2 213.4 698.9 212.6C700.5 211.8 702.4 210.5 703.4 209.0C704.4 207.5 705.5 205.9 705.1 203.6C704.7 201.3 702.8 198.2 700.7 195.4C698.6 192.6 694.4 189.4 692.6 186.8C690.8 184.2 690.5 181.8 689.9 180.0C689.3 178.2 689.2 177.5 689.3 176.3C689.4 175.1 690.0 173.7 690.7 172.6C691.5 171.5 692.4 171.0 693.8 170.0C695.2 169.0 696.9 168.0 699.0 166.4C701.1 164.8 704.5 162.5 706.3 160.7C708.1 158.9 709.2 157.1 709.9 155.5C710.6 153.9 710.8 152.8 710.6 151.4C710.4 150.0 710.0 148.6 708.8 147.3C707.5 146.0 705.2 144.7 703.1 143.6C701.0 142.5 698.3 141.5 695.9 140.8C693.5 140.1 692.8 139.9 688.7 139.5C684.6 139.1 676.1 138.8 671.1 138.5C666.1 138.2 662.0 138.1 658.6 138.0C655.2 137.9 654.1 138.2 650.6 137.8C647.1 137.4 641.5 137.0 637.6 135.6C633.7 134.2 630.4 132.0 627.3 129.2C624.2 126.4 621.3 122.0 618.9 118.8C616.5 115.6 614.6 113.2 613.0 109.8C611.4 106.3 610.7 102.0 609.2 98.1C607.7 94.2 605.5 89.5 604.0 86.5C602.5 83.5 602.2 82.6 600.2 80.0C598.2 77.4 594.2 73.6 591.7 70.8C589.2 68.0 587.4 65.2 585.3 63.0C583.1 60.9 581.0 59.3 578.8 57.9C576.6 56.5 574.9 55.4 572.3 54.4C569.7 53.4 566.3 51.8 563.3 51.8C560.3 51.8 556.9 52.6 554.2 54.4C551.5 56.2 548.9 59.2 547.1 62.4C545.3 65.6 544.1 69.2 543.2 73.4C542.3 77.6 542.0 84.1 541.9 87.6C541.8 91.1 542.2 92.0 542.6 94.5C543.0 97.0 543.5 99.9 544.0 102.6C544.5 105.3 545.2 108.1 545.8 110.8C546.4 113.5 547.0 116.2 547.6 118.9C548.2 121.6 549.0 124.5 549.4 127.1C549.8 129.7 550.1 132.3 549.9 134.3C549.7 136.3 548.9 137.6 548.0 138.9C547.1 140.2 545.8 141.2 544.4 142.0C543.0 142.8 541.2 143.3 539.9 143.6C538.5 143.9 538.3 143.6 536.3 144.0C534.3 144.4 530.5 145.3 528.1 145.9C525.7 146.5 524.5 146.7 521.8 147.5C519.1 148.3 515.5 149.7 512.1 150.8C508.8 152.0 504.9 153.1 501.7 154.4C498.5 155.8 495.5 157.1 492.7 158.9C489.9 160.7 486.9 162.5 484.9 165.0C482.8 167.5 481.3 170.9 480.4 174.0C479.5 177.1 479.1 180.6 479.5 183.7C479.9 186.8 481.2 190.2 483.0 192.8C484.8 195.4 487.8 197.6 490.1 199.3C492.4 201.0 493.8 201.8 496.6 203.1C499.4 204.4 503.4 206.1 506.9 207.0C510.3 207.9 514.0 208.5 517.3 208.8C520.6 209.2 523.1 209.1 526.9 209.1C530.7 209.1 536.2 208.7 539.9 209.1C543.6 209.5 546.4 210.3 548.9 211.7C551.4 213.0 553.2 214.9 554.7 217.2C556.2 219.5 557.2 222.2 557.7 225.6C558.2 228.9 557.9 233.6 558.0 237.3C558.1 241.0 558.1 243.7 558.2 247.6C558.3 251.5 558.5 257.1 558.6 260.6C558.7 264.1 558.7 266.1 559.0 268.8Z" transform="translate(0.1,0.8) rotate(308.5714 604.5 169.7)" fill="#98fb98" fill-opacity="0.3" stroke="none"/><path d="M559.0 268.8C559.3 271.5 559.3 273.3 560.3 277.0C561.3 280.7 563.0 286.6 564.9 291.1C566.8 295.6 569.1 300.0 571.8 304.0C574.5 308.0 577.7 311.8 581.3 315.1C584.9 318.4 589.0 321.4 593.4 323.7C597.8 326.0 602.6 327.8 607.5 328.8C612.4 329.8 617.6 330.2 622.6 329.8C627.6 329.4 632.7 328.4 637.4 326.6C642.1 324.9 646.6 322.3 650.6 319.3C654.6 316.3 658.3 312.7 661.4 308.8C664.5 304.9 667.0 300.5 669.0 296.0C671.0 291.5 672.4 286.7 673.4 281.9C674.4 277.1 674.6 272.3 674.9 267.0C675.1 261.7 675.0 254.1 674.9 250.0C674.8 245.9 674.4 245.1 674.0 242.5C673.6 239.9 672.9 236.6 672.5 234.3C672.1 232.0 671.9 230.9 671.7 228.9C671.6 226.9 671.4 224.4 671.6 222.6C671.8 220.8 672.0 219.1 672.8 218.0C673.6 216.9 675.0 216.3 676.3 215.9C677.5 215.5 678.6 215.7 680.3 215.5C681.9 215.3 684.0 215.2 686.2 215.0C688.4 214.8 691.4 214.4 693.5 214.0C695.6 213.6 697.2 213.4 698.9 212.6C700.5 211.8 702.4 210.5 703.4 209.0C704.4 207.5 705.5 205.9 705.1 203.6C704.7 201.3 702.8 198.2 700.7 195.4C698.6 192.6 694.4 189.4 692.6 186.8C690.8 184.2 690.5 181.8 689.9 180.0C689.3 178.2 689.2 177.5 689.3 176.3C689.4 175.1 690.0 173.7 690.7 172.6C691.5 171.5 692.4 171.0 693.8 170.0C695.2 169.0 696.9 168.0 699.0 166.4C701.1 164.8 704.5 162.5 706.3 160.7C708.1 158.9 709.2 157.1 709.9 155.5C710.6 153.9 710.8 152.8 710.6 151.4C710.4 150.0 710.0 148.6 708.8 147.3C707.5 146.0 705.2 144.7 703.1 143.6C701.0 142.5 698.3 141.5 695.9 140.8C693.5 140.1 692.8 139.9 688.7 139.5C684.6 139.1 676.1 138.8 671.1 138.5C666.1 138.2 662.0 138.1 658.6 138.0C655.2 137.9 654.1 138.2 650.6 137.8C647.1 137.4 641.5 137.0 637.6 135.6C633.7 134.2 630.4 132.0 627.3 129.2C624.2 126.4 621.3 122.0 618.9 118.8C616.5 115.6 614.6 113.2 613.0 109.8C611.4 106.3 610.7 102.0 609.2 98.1C607.7 94.2 605.5 89.5 604.0 86.5C602.5 83.5 602.2 82.6 600.2 80.0C598.2 77.4 594.2 73.6 591.7 70.8C589.2 68.0 587.4 65.2 585.3 63.0C583.1 60.9 581.0 59.3 578.8 57.9C576.6 56.5 574.9 55.4 572.3 54.4C569.7 53.4 566.3 51.8 563.3 51.8C560.3 51.8 556.9 52.6 554.2 54.4C551.5 56.2 548.9 59.2 547.1 62.4C545.3 65.6 544.1 69.2 543.2 73.4C542.3 77.6 542.0 84.1 541.9 87.6C541.8 91.1 542.2 92.0 542.6 94.5C543.0 97.0 543.5 99.9 544.0 102.6C544.5 105.3 545.2 108.1 545.8 110.8C546.4 113.5 547.0 116.2 547.6 118.9C548.2 121.6 549.0 124.5 549.4 127.1C549.8 129.7 550.1 132.3 549.9 134.3C549.7 136.3 548.9 137.6 548.0 138.9C547.1 140.2 545.8 141.2 544.4 142.0C543.0 142.8 541.2 143.3 539.9 143.6C538.5 143.9 538.3 143.6 536.3 144.0C534.3 144.4 530.5 145.3 528.1 145.9C525.7 146.5 524.5 146.7 521.8 147.5C519.1 148.3 515.5 149.7 512.1 150.8C508.8 152.0 504.9 153.1 501.7 154.4C498.5 155.8 495.5 157.1 492.7 158.9C489.9 160.7 486.9 162.5 484.9 165.0C482.8 167.5 481.3 170.9 480.4 174.0C479.5 177.1 479.1 180.6 479.5 183.7C479.9 186.8 481.2 190.2 483.0 192.8C484.8 195.4 487.8 197.6 490.1 199.3C492.4 201.0 493.8 201.8 496.6 203.1C499.4 204.4 503.4 206.1 506.9 207.0C510.3 207.9 514.0 208.5 517.3 208.8C520.6 209.2 523.1 209.1 526.9 209.1C530.7 209.1 536.2 208.7 539.9 209.1C543.6 209.5 546.4 210.3 548.9 211.7C551.4 213.0 553.2 214.9 554.7 217.2C556.2 219.5 557.2 222.2 557.7 225.6C558.2 228.9 557.9 233.6 558.0 237.3C558.1 241.0 558.1 243.7 558.2 247.6C558.3 251.5 558.5 257.1 558.6 260.6C558.7 264.1 558.7 266.1 559.0 268.8Z" transform="translate(0,0) rotate(0.0000 604.5 169.7)" fill="#000000" fill-opacity="0.3" stroke="none"/><path d="M559.0 268.8C559.3 271.5 559.3 273.3 560.3 277.0C561.3 280.7 563.0 286.6 564.9 291.1C566.8 295.6 569.1 300.0 571.8 304.0C574.5 308.0 577.7 311.8 581.3 315.1C584.9 318.4 589.0 321.4 593.4 323.7C597.8 326.0 602.6 327.8 607.5 328.8C612.4 329.8 617.6 330.2 622.6 329.8C627.6 329.4 632.7 328.4 637.4 326.6C642.1 324.9 646.6 322.3 650.6 319.3C654.6 316.3 658.3 312.7 661.4 308.8C664.5 304.9 667.0 300.5 669.0 296.0C671.0 291.5 672.4 286.7 673.4 281.9C674.4 277.1 674.6 272.3 674.9 267.0C675.1 261.7 675.0 254.1 674.9 250.0C674.8 245.9 674.4 245.1 674.0 242.5C673.6 239.9 672.9 236.6 672.5 234.3C672.1 232.0 671.9 230.9 671.7 228.9C671.6 226.9 671.4 224.4 671.6 222.6C671.8 220.8 672.0 219.1 672.8 218.0C673.6 216.9 675.0 216.3 676.3 215.9C677.5 215.5 678.6 215.7 680.3 215.5C681.9 215.3 684.0 215.2 686.2 215.0C688.4 214.8 691.4 214.4 693.5 214.0C695.6 213.6 697.2 213.4 698.9 212.6C700.5 211.8 702.4 210.5 703.4 209.0C704.4 207.5 705.5 205.9 705.1 203.6C704.7 201.3 702.8 198.2 700.7 195.4C698.6 192.6 694.4 189.4 692.6 186.8C690.8 184.2 690.5 181.8 689.9 180.0C689.3 178.2 689.2 177.5 689.3 176.3C689.4 175.1 690.0 173.7 690.7 172.6C691.5 171.5 692.4 171.0 693.8 170.0C695.2 169.0 696.9 168.0 699.0 166.4C701.1 164.8 704.5 162.5 706.3 160.7C708.1 158.9 709.2 157.1 709.9 155.5C710.6 153.9 710.8 152.8 710.6 151.4C710.4 150.0 710.0 148.6 708.8 147.3C707.5 146.0 705.2 144.7 703.1 143.6C701.0 142.5 698.3 141.5 695.9 140.8C693.5 140.1 692.8 139.9 688.7 139.5C684.6 139.1 676.1 138.8 671.1 138.5C666.1 138.2 662.0 138.1 658.6 138.0C655.2 137.9 654.1 138.2 650.6 137.8C647.1 137.4 641.5 137.0 637.6 135.6C633.7 134.2 630.4 132.0 627.3 129.2C624.2 126.4 621.3 122.0 618.9 118.8C616.5 115.6 614.6 113.2 613.0 109.8C611.4 106.3 610.7 102.0 609.2 98.1C607.7 94.2 605.5 89.5 604.0 86.5C602.5 83.5 602.2 82.6 600.2 80.0C598.2 77.4 594.2 73.6 591.7 70.8C589.2 68.0 587.4 65.2 585.3 63.0C583.1 60.9 581.0 59.3 578.8 57.9C576.6 56.5 574.9 55.4 572.3 54.4C569.7 53.4 566.3 51.8 563.3 51.8C560.3 51.8 556.9 52.6 554.2 54.4C551.5 56.2 548.9 59.2 547.1 62.4C545.3 65.6 544.1 69.2 543.2 73.4C542.3 77.6 542.0 84.1 541.9 87.6C541.8 91.1 542.2 92.0 542.6 94.5C543.0 97.0 543.5 99.9 544.0 102.6C544.5 105.3 545.2 108.1 545.8 110.8C546.4 113.5 547.0 116.2 547.6 118.9C548.2 121.6 549.0 124.5 549.4 127.1C549.8 129.7 550.1 132.3 549.9 134.3C549.7 136.3 548.9 137.6 548.0 138.9C547.1 140.2 545.8 141.2 544.4 142.0C543.0 142.8 541.2 143.3 539.9 143.6C538.5 143.9 538.3 143.6 536.3 144.0C534.3 144.4 530.5 145.3 528.1 145.9C525.7 146.5 524.5 146.7 521.8 147.5C519.1 148.3 515.5 149.7 512.1 150.8C508.8 152.0 504.9 153.1 501.7 154.4C498.5 155.8 495.5 157.1 492.7 158.9C489.9 160.7 486.9 162.5 484.9 165.0C482.8 167.5 481.3 170.9 480.4 174.0C479.5 177.1 479.1 180.6 479.5 183.7C479.9 186.8 481.2 190.2 483.0 192.8C484.8 195.4 487.8 197.6 490.1 199.3C492.4 201.0 493.8 201.8 496.6 203.1C499.4 204.4 503.4 206.1 506.9 207.0C510.3 207.9 514.0 208.5 517.3 208.8C520.6 209.2 523.1 209.1 526.9 209.1C530.7 209.1 536.2 208.7 539.9 209.1C543.6 209.5 546.4 210.3 548.9 211.7C551.4 213.0 553.2 214.9 554.7 217.2C556.2 219.5 557.2 222.2 557.7 225.6C558.2 228.9 557.9 233.6 558.0 237.3C558.1 241.0 558.1 243.7 558.2 247.6C558.3 251.5 558.5 257.1 558.6 260.6C558.7 264.1 558.7 266.1 559.0 268.8Z" transform="translate(-0.9,0.1) rotate(51.4286 604.5 169.7)" fill="#2d9a00" fill-opacity="0.3" stroke="none"/><path d="M559.0 268.8C559.3 271.5 559.3 273.3 560.3 277.0C561.3 280.7 563.0 286.6 564.9 291.1C566.8 295.6 569.1 300.0 571.8 304.0C574.5 308.0 577.7 311.8 581.3 315.1C584.9 318.4 589.0 321.4 593.4 323.7C597.8 326.0 602.6 327.8 607.5 328.8C612.4 329.8 617.6 330.2 622.6 329.8C627.6 329.4 632.7 328.4 637.4 326.6C642.1 324.9 646.6 322.3 650.6 319.3C654.6 316.3 658.3 312.7 661.4 308.8C664.5 304.9 667.0 300.5 669.0 296.0C671.0 291.5 672.4 286.7 673.4 281.9C674.4 277.1 674.6 272.3 674.9 267.0C675.1 261.7 675.0 254.1 674.9 250.0C674.8 245.9 674.4 245.1 674.0 242.5C673.6 239.9 672.9 236.6 672.5 234.3C672.1 232.0 671.9 230.9 671.7 228.9C671.6 226.9 671.4 224.4 671.6 222.6C671.8 220.8 672.0 219.1 672.8 218.0C673.6 216.9 675.0 216.3 676.3 215.9C677.5 215.5 678.6 215.7 680.3 215.5C681.9 215.3 684.0 215.2 686.2 215.0C688.4 214.8 691.4 214.4 693.5 214.0C695.6 213.6 697.2 213.4 698.9 212.6C700.5 211.8 702.4 210.5 703.4 209.0C704.4 207.5 705.5 205.9 705.1 203.6C704.7 201.3 702.8 198.2 700.7 195.4C698.6 192.6 694.4 189.4 692.6 186.8C690.8 184.2 690.5 181.8 689.9 180.0C689.3 178.2 689.2 177.5 689.3 176.3C689.4 175.1 690.0 173.7 690.7 172.6C691.5 171.5 692.4 171.0 693.8 170.0C695.2 169.0 696.9 168.0 699.0 166.4C701.1 164.8 704.5 162.5 706.3 160.7C708.1 158.9 709.2 157.1 709.9 155.5C710.6 153.9 710.8 152.8 710.6 151.4C710.4 150.0 710.0 148.6 708.8 147.3C707.5 146.0 705.2 144.7 703.1 143.6C701.0 142.5 698.3 141.5 695.9 140.8C693.5 140.1 692.8 139.9 688.7 139.5C684.6 139.1 676.1 138.8 671.1 138.5C666.1 138.2 662.0 138.1 658.6 138.0C655.2 137.9 654.1 138.2 650.6 137.8C647.1 137.4 641.5 137.0 637.6 135.6C633.7 134.2 630.4 132.0 627.3 129.2C624.2 126.4 621.3 122.0 618.9 118.8C616.5 115.6 614.6 113.2 613.0 109.8C611.4 106.3 610.7 102.0 609.2 98.1C607.7 94.2 605.5 89.5 604.0 86.5C602.5 83.5 602.2 82.6 600.2 80.0C598.2 77.4 594.2 73.6 591.7 70.8C589.2 68.0 587.4 65.2 585.3 63.0C583.1 60.9 581.0 59.3 578.8 57.9C576.6 56.5 574.9 55.4 572.3 54.4C569.7 53.4 566.3 51.8 563.3 51.8C560.3 51.8 556.9 52.6 554.2 54.4C551.5 56.2 548.9 59.2 547.1 62.4C545.3 65.6 544.1 69.2 543.2 73.4C542.3 77.6 542.0 84.1 541.9 87.6C541.8 91.1 542.2 92.0 542.6 94.5C543.0 97.0 543.5 99.9 544.0 102.6C544.5 105.3 545.2 108.1 545.8 110.8C546.4 113.5 547.0 116.2 547.6 118.9C548.2 121.6 549.0 124.5 549.4 127.1C549.8 129.7 550.1 132.3 549.9 134.3C549.7 136.3 548.9 137.6 548.0 138.9C547.1 140.2 545.8 141.2 544.4 142.0C543.0 142.8 541.2 143.3 539.9 143.6C538.5 143.9 538.3 143.6 536.3 144.0C534.3 144.4 530.5 145.3 528.1 145.9C525.7 146.5 524.5 146.7 521.8 147.5C519.1 148.3 515.5 149.7 512.1 150.8C508.8 152.0 504.9 153.1 501.7 154.4C498.5 155.8 495.5 157.1 492.7 158.9C489.9 160.7 486.9 162.5 484.9 165.0C482.8 167.5 481.3 170.9 480.4 174.0C479.5 177.1 479.1 180.6 479.5 183.7C479.9 186.8 481.2 190.2 483.0 192.8C484.8 195.4 487.8 197.6 490.1 199.3C492.4 201.0 493.8 201.8 496.6 203.1C499.4 204.4 503.4 206.1 506.9 207.0C510.3 207.9 514.0 208.5 517.3 208.8C520.6 209.2 523.1 209.1 526.9 209.1C530.7 209.1 536.2 208.7 539.9 209.1C543.6 209.5 546.4 210.3 548.9 211.7C551.4 213.0 553.2 214.9 554.7 217.2C556.2 219.5 557.2 222.2 557.7 225.6C558.2 228.9 557.9 233.6 558.0 237.3C558.1 241.0 558.1 243.7 558.2 247.6C558.3 251.5 558.5 257.1 558.6 260.6C558.7 264.1 558.7 266.1 559.0 268.8Z" transform="translate(2.5,3.0) rotate(102.8571 604.5 169.7)" fill="#ffcd3a" fill-opacity="0.3" stroke="none"/><path d="M559.0 268.8C559.3 271.5 559.3 273.3 560.3 277.0C561.3 280.7 563.0 286.6 564.9 291.1C566.8 295.6 569.1 300.0 571.8 304.0C574.5 308.0 577.7 311.8 581.3 315.1C584.9 318.4 589.0 321.4 593.4 323.7C597.8 326.0 602.6 327.8 607.5 328.8C612.4 329.8 617.6 330.2 622.6 329.8C627.6 329.4 632.7 328.4 637.4 326.6C642.1 324.9 646.6 322.3 650.6 319.3C654.6 316.3 658.3 312.7 661.4 308.8C664.5 304.9 667.0 300.5 669.0 296.0C671.0 291.5 672.4 286.7 673.4 281.9C674.4 277.1 674.6 272.3 674.9 267.0C675.1 261.7 675.0 254.1 674.9 250.0C674.8 245.9 674.4 245.1 674.0 242.5C673.6 239.9 672.9 236.6 672.5 234.3C672.1 232.0 671.9 230.9 671.7 228.9C671.6 226.9 671.4 224.4 671.6 222.6C671.8 220.8 672.0 219.1 672.8 218.0C673.6 216.9 675.0 216.3 676.3 215.9C677.5 215.5 678.6 215.7 680.3 215.5C681.9 215.3 684.0 215.2 686.2 215.0C688.4 214.8 691.4 214.4 693.5 214.0C695.6 213.6 697.2 213.4 698.9 212.6C700.5 211.8 702.4 210.5 703.4 209.0C704.4 207.5 705.5 205.9 705.1 203.6C704.7 201.3 702.8 198.2 700.7 195.4C698.6 192.6 694.4 189.4 692.6 186.8C690.8 184.2 690.5 181.8 689.9 180.0C689.3 178.2 689.2 177.5 689.3 176.3C689.4 175.1 690.0 173.7 690.7 172.6C691.5 171.5 692.4 171.0 693.8 170.0C695.2 169.0 696.9 168.0 699.0 166.4C701.1 164.8 704.5 162.5 706.3 160.7C708.1 158.9 709.2 157.1 709.9 155.5C710.6 153.9 710.8 152.8 710.6 151.4C710.4 150.0 710.0 148.6 708.8 147.3C707.5 146.0 705.2 144.7 703.1 143.6C701.0 142.5 698.3 141.5 695.9 140.8C693.5 140.1 692.8 139.9 688.7 139.5C684.6 139.1 676.1 138.8 671.1 138.5C666.1 138.2 662.0 138.1 658.6 138.0C655.2 137.9 654.1 138.2 650.6 137.8C647.1 137.4 641.5 137.0 637.6 135.6C633.7 134.2 630.4 132.0 627.3 129.2C624.2 126.4 621.3 122.0 618.9 118.8C616.5 115.6 614.6 113.2 613.0 109.8C611.4 106.3 610.7 102.0 609.2 98.1C607.7 94.2 605.5 89.5 604.0 86.5C602.5 83.5 602.2 82.6 600.2 80.0C598.2 77.4 594.2 73.6 591.7 70.8C589.2 68.0 587.4 65.2 585.3 63.0C583.1 60.9 581.0 59.3 578.8 57.9C576.6 56.5 574.9 55.4 572.3 54.4C569.7 53.4 566.3 51.8 563.3 51.8C560.3 51.8 556.9 52.6 554.2 54.4C551.5 56.2 548.9 59.2 547.1 62.4C545.3 65.6 544.1 69.2 543.2 73.4C542.3 77.6 542.0 84.1 541.9 87.6C541.8 91.1 542.2 92.0 542.6 94.5C543.0 97.0 543.5 99.9 544.0 102.6C544.5 105.3 545.2 108.1 545.8 110.8C546.4 113.5 547.0 116.2 547.6 118.9C548.2 121.6 549.0 124.5 549.4 127.1C549.8 129.7 550.1 132.3 549.9 134.3C549.7 136.3 548.9 137.6 548.0 138.9C547.1 140.2 545.8 141.2 544.4 142.0C543.0 142.8 541.2 143.3 539.9 143.6C538.5 143.9 538.3 143.6 536.3 144.0C534.3 144.4 530.5 145.3 528.1 145.9C525.7 146.5 524.5 146.7 521.8 147.5C519.1 148.3 515.5 149.7 512.1 150.8C508.8 152.0 504.9 153.1 501.7 154.4C498.5 155.8 495.5 157.1 492.7 158.9C489.9 160.7 486.9 162.5 484.9 165.0C482.8 167.5 481.3 170.9 480.4 174.0C479.5 177.1 479.1 180.6 479.5 183.7C479.9 186.8 481.2 190.2 483.0 192.8C484.8 195.4 487.8 197.6 490.1 199.3C492.4 201.0 493.8 201.8 496.6 203.1C499.4 204.4 503.4 206.1 506.9 207.0C510.3 207.9 514.0 208.5 517.3 208.8C520.6 209.2 523.1 209.1 526.9 209.1C530.7 209.1 536.2 208.7 539.9 209.1C543.6 209.5 546.4 210.3 548.9 211.7C551.4 213.0 553.2 214.9 554.7 217.2C556.2 219.5 557.2 222.2 557.7 225.6C558.2 228.9 557.9 233.6 558.0 237.3C558.1 241.0 558.1 243.7 558.2 247.6C558.3 251.5 558.5 257.1 558.6 260.6C558.7 264.1 558.7 266.1 559.0 268.8Z" transform="translate(0,0) rotate(0.0000 604.5 169.7)" fill="none" stroke="#0a0a0a" stroke-width="0.812"/><path d="M559.0 268.8C559.3 271.5 559.3 273.3 560.3 277.0C561.3 280.7 563.0 286.6 564.9 291.1C566.8 295.6 569.1 300.0 571.8 304.0C574.5 308.0 577.7 311.8 581.3 315.1C584.9 318.4 589.0 321.4 593.4 323.7C597.8 326.0 602.6 327.8 607.5 328.8C612.4 329.8 617.6 330.2 622.6 329.8C627.6 329.4 632.7 328.4 637.4 326.6C642.1 324.9 646.6 322.3 650.6 319.3C654.6 316.3 658.3 312.7 661.4 308.8C664.5 304.9 667.0 300.5 669.0 296.0C671.0 291.5 672.4 286.7 673.4 281.9C674.4 277.1 674.6 272.3 674.9 267.0C675.1 261.7 675.0 254.1 674.9 250.0C674.8 245.9 674.4 245.1 674.0 242.5C673.6 239.9 672.9 236.6 672.5 234.3C672.1 232.0 671.9 230.9 671.7 228.9C671.6 226.9 671.4 224.4 671.6 222.6C671.8 220.8 672.0 219.1 672.8 218.0C673.6 216.9 675.0 216.3 676.3 215.9C677.5 215.5 678.6 215.7 680.3 215.5C681.9 215.3 684.0 215.2 686.2 215.0C688.4 214.8 691.4 214.4 693.5 214.0C695.6 213.6 697.2 213.4 698.9 212.6C700.5 211.8 702.4 210.5 703.4 209.0C704.4 207.5 705.5 205.9 705.1 203.6C704.7 201.3 702.8 198.2 700.7 195.4C698.6 192.6 694.4 189.4 692.6 186.8C690.8 184.2 690.5 181.8 689.9 180.0C689.3 178.2 689.2 177.5 689.3 176.3C689.4 175.1 690.0 173.7 690.7 172.6C691.5 171.5 692.4 171.0 693.8 170.0C695.2 169.0 696.9 168.0 699.0 166.4C701.1 164.8 704.5 162.5 706.3 160.7C708.1 158.9 709.2 157.1 709.9 155.5C710.6 153.9 710.8 152.8 710.6 151.4C710.4 150.0 710.0 148.6 708.8 147.3C707.5 146.0 705.2 144.7 703.1 143.6C701.0 142.5 698.3 141.5 695.9 140.8C693.5 140.1 692.8 139.9 688.7 139.5C684.6 139.1 676.1 138.8 671.1 138.5C666.1 138.2 662.0 138.1 658.6 138.0C655.2 137.9 654.1 138.2 650.6 137.8C647.1 137.4 641.5 137.0 637.6 135.6C633.7 134.2 630.4 132.0 627.3 129.2C624.2 126.4 621.3 122.0 618.9 118.8C616.5 115.6 614.6 113.2 613.0 109.8C611.4 106.3 610.7 102.0 609.2 98.1C607.7 94.2 605.5 89.5 604.0 86.5C602.5 83.5 602.2 82.6 600.2 80.0C598.2 77.4 594.2 73.6 591.7 70.8C589.2 68.0 587.4 65.2 585.3 63.0C583.1 60.9 581.0 59.3 578.8 57.9C576.6 56.5 574.9 55.4 572.3 54.4C569.7 53.4 566.3 51.8 563.3 51.8C560.3 51.8 556.9 52.6 554.2 54.4C551.5 56.2 548.9 59.2 547.1 62.4C545.3 65.6 544.1 69.2 543.2 73.4C542.3 77.6 542.0 84.1 541.9 87.6C541.8 91.1 542.2 92.0 542.6 94.5C543.0 97.0 543.5 99.9 544.0 102.6C544.5 105.3 545.2 108.1 545.8 110.8C546.4 113.5 547.0 116.2 547.6 118.9C548.2 121.6 549.0 124.5 549.4 127.1C549.8 129.7 550.1 132.3 549.9 134.3C549.7 136.3 548.9 137.6 548.0 138.9C547.1 140.2 545.8 141.2 544.4 142.0C543.0 142.8 541.2 143.3 539.9 143.6C538.5 143.9 538.3 143.6 536.3 144.0C534.3 144.4 530.5 145.3 528.1 145.9C525.7 146.5 524.5 146.7 521.8 147.5C519.1 148.3 515.5 149.7 512.1 150.8C508.8 152.0 504.9 153.1 501.7 154.4C498.5 155.8 495.5 157.1 492.7 158.9C489.9 160.7 486.9 162.5 484.9 165.0C482.8 167.5 481.3 170.9 480.4 174.0C479.5 177.1 479.1 180.6 479.5 183.7C479.9 186.8 481.2 190.2 483.0 192.8C484.8 195.4 487.8 197.6 490.1 199.3C492.4 201.0 493.8 201.8 496.6 203.1C499.4 204.4 503.4 206.1 506.9 207.0C510.3 207.9 514.0 208.5 517.3 208.8C520.6 209.2 523.1 209.1 526.9 209.1C530.7 209.1 536.2 208.7 539.9 209.1C543.6 209.5 546.4 210.3 548.9 211.7C551.4 213.0 553.2 214.9 554.7 217.2C556.2 219.5 557.2 222.2 557.7 225.6C558.2 228.9 557.9 233.6 558.0 237.3C558.1 241.0 558.1 243.7 558.2 247.6C558.3 251.5 558.5 257.1 558.6 260.6C558.7 264.1 558.7 266.1 559.0 268.8Z" transform="translate(-0.9,0.1) rotate(51.4286 604.5 169.7)" fill="none" stroke="#0a0a0a" stroke-width="0.812"/><path d="M559.0 268.8C559.3 271.5 559.3 273.3 560.3 277.0C561.3 280.7 563.0 286.6 564.9 291.1C566.8 295.6 569.1 300.0 571.8 304.0C574.5 308.0 577.7 311.8 581.3 315.1C584.9 318.4 589.0 321.4 593.4 323.7C597.8 326.0 602.6 327.8 607.5 328.8C612.4 329.8 617.6 330.2 622.6 329.8C627.6 329.4 632.7 328.4 637.4 326.6C642.1 324.9 646.6 322.3 650.6 319.3C654.6 316.3 658.3 312.7 661.4 308.8C664.5 304.9 667.0 300.5 669.0 296.0C671.0 291.5 672.4 286.7 673.4 281.9C674.4 277.1 674.6 272.3 674.9 267.0C675.1 261.7 675.0 254.1 674.9 250.0C674.8 245.9 674.4 245.1 674.0 242.5C673.6 239.9 672.9 236.6 672.5 234.3C672.1 232.0 671.9 230.9 671.7 228.9C671.6 226.9 671.4 224.4 671.6 222.6C671.8 220.8 672.0 219.1 672.8 218.0C673.6 216.9 675.0 216.3 676.3 215.9C677.5 215.5 678.6 215.7 680.3 215.5C681.9 215.3 684.0 215.2 686.2 215.0C688.4 214.8 691.4 214.4 693.5 214.0C695.6 213.6 697.2 213.4 698.9 212.6C700.5 211.8 702.4 210.5 703.4 209.0C704.4 207.5 705.5 205.9 705.1 203.6C704.7 201.3 702.8 198.2 700.7 195.4C698.6 192.6 694.4 189.4 692.6 186.8C690.8 184.2 690.5 181.8 689.9 180.0C689.3 178.2 689.2 177.5 689.3 176.3C689.4 175.1 690.0 173.7 690.7 172.6C691.5 171.5 692.4 171.0 693.8 170.0C695.2 169.0 696.9 168.0 699.0 166.4C701.1 164.8 704.5 162.5 706.3 160.7C708.1 158.9 709.2 157.1 709.9 155.5C710.6 153.9 710.8 152.8 710.6 151.4C710.4 150.0 710.0 148.6 708.8 147.3C707.5 146.0 705.2 144.7 703.1 143.6C701.0 142.5 698.3 141.5 695.9 140.8C693.5 140.1 692.8 139.9 688.7 139.5C684.6 139.1 676.1 138.8 671.1 138.5C666.1 138.2 662.0 138.1 658.6 138.0C655.2 137.9 654.1 138.2 650.6 137.8C647.1 137.4 641.5 137.0 637.6 135.6C633.7 134.2 630.4 132.0 627.3 129.2C624.2 126.4 621.3 122.0 618.9 118.8C616.5 115.6 614.6 113.2 613.0 109.8C611.4 106.3 610.7 102.0 609.2 98.1C607.7 94.2 605.5 89.5 604.0 86.5C602.5 83.5 602.2 82.6 600.2 80.0C598.2 77.4 594.2 73.6 591.7 70.8C589.2 68.0 587.4 65.2 585.3 63.0C583.1 60.9 581.0 59.3 578.8 57.9C576.6 56.5 574.9 55.4 572.3 54.4C569.7 53.4 566.3 51.8 563.3 51.8C560.3 51.8 556.9 52.6 554.2 54.4C551.5 56.2 548.9 59.2 547.1 62.4C545.3 65.6 544.1 69.2 543.2 73.4C542.3 77.6 542.0 84.1 541.9 87.6C541.8 91.1 542.2 92.0 542.6 94.5C543.0 97.0 543.5 99.9 544.0 102.6C544.5 105.3 545.2 108.1 545.8 110.8C546.4 113.5 547.0 116.2 547.6 118.9C548.2 121.6 549.0 124.5 549.4 127.1C549.8 129.7 550.1 132.3 549.9 134.3C549.7 136.3 548.9 137.6 548.0 138.9C547.1 140.2 545.8 141.2 544.4 142.0C543.0 142.8 541.2 143.3 539.9 143.6C538.5 143.9 538.3 143.6 536.3 144.0C534.3 144.4 530.5 145.3 528.1 145.9C525.7 146.5 524.5 146.7 521.8 147.5C519.1 148.3 515.5 149.7 512.1 150.8C508.8 152.0 504.9 153.1 501.7 154.4C498.5 155.8 495.5 157.1 492.7 158.9C489.9 160.7 486.9 162.5 484.9 165.0C482.8 167.5 481.3 170.9 480.4 174.0C479.5 177.1 479.1 180.6 479.5 183.7C479.9 186.8 481.2 190.2 483.0 192.8C484.8 195.4 487.8 197.6 490.1 199.3C492.4 201.0 493.8 201.8 496.6 203.1C499.4 204.4 503.4 206.1 506.9 207.0C510.3 207.9 514.0 208.5 517.3 208.8C520.6 209.2 523.1 209.1 526.9 209.1C530.7 209.1 536.2 208.7 539.9 209.1C543.6 209.5 546.4 210.3 548.9 211.7C551.4 213.0 553.2 214.9 554.7 217.2C556.2 219.5 557.2 222.2 557.7 225.6C558.2 228.9 557.9 233.6 558.0 237.3C558.1 241.0 558.1 243.7 558.2 247.6C558.3 251.5 558.5 257.1 558.6 260.6C558.7 264.1 558.7 266.1 559.0 268.8Z" transform="translate(2.5,3.0) rotate(102.8571 604.5 169.7)" fill="none" stroke="#0a0a0a" stroke-width="0.812"/><path d="M559.0 268.8C559.3 271.5 559.3 273.3 560.3 277.0C561.3 280.7 563.0 286.6 564.9 291.1C566.8 295.6 569.1 300.0 571.8 304.0C574.5 308.0 577.7 311.8 581.3 315.1C584.9 318.4 589.0 321.4 593.4 323.7C597.8 326.0 602.6 327.8 607.5 328.8C612.4 329.8 617.6 330.2 622.6 329.8C627.6 329.4 632.7 328.4 637.4 326.6C642.1 324.9 646.6 322.3 650.6 319.3C654.6 316.3 658.3 312.7 661.4 308.8C664.5 304.9 667.0 300.5 669.0 296.0C671.0 291.5 672.4 286.7 673.4 281.9C674.4 277.1 674.6 272.3 674.9 267.0C675.1 261.7 675.0 254.1 674.9 250.0C674.8 245.9 674.4 245.1 674.0 242.5C673.6 239.9 672.9 236.6 672.5 234.3C672.1 232.0 671.9 230.9 671.7 228.9C671.6 226.9 671.4 224.4 671.6 222.6C671.8 220.8 672.0 219.1 672.8 218.0C673.6 216.9 675.0 216.3 676.3 215.9C677.5 215.5 678.6 215.7 680.3 215.5C681.9 215.3 684.0 215.2 686.2 215.0C688.4 214.8 691.4 214.4 693.5 214.0C695.6 213.6 697.2 213.4 698.9 212.6C700.5 211.8 702.4 210.5 703.4 209.0C704.4 207.5 705.5 205.9 705.1 203.6C704.7 201.3 702.8 198.2 700.7 195.4C698.6 192.6 694.4 189.4 692.6 186.8C690.8 184.2 690.5 181.8 689.9 180.0C689.3 178.2 689.2 177.5 689.3 176.3C689.4 175.1 690.0 173.7 690.7 172.6C691.5 171.5 692.4 171.0 693.8 170.0C695.2 169.0 696.9 168.0 699.0 166.4C701.1 164.8 704.5 162.5 706.3 160.7C708.1 158.9 709.2 157.1 709.9 155.5C710.6 153.9 710.8 152.8 710.6 151.4C710.4 150.0 710.0 148.6 708.8 147.3C707.5 146.0 705.2 144.7 703.1 143.6C701.0 142.5 698.3 141.5 695.9 140.8C693.5 140.1 692.8 139.9 688.7 139.5C684.6 139.1 676.1 138.8 671.1 138.5C666.1 138.2 662.0 138.1 658.6 138.0C655.2 137.9 654.1 138.2 650.6 137.8C647.1 137.4 641.5 137.0 637.6 135.6C633.7 134.2 630.4 132.0 627.3 129.2C624.2 126.4 621.3 122.0 618.9 118.8C616.5 115.6 614.6 113.2 613.0 109.8C611.4 106.3 610.7 102.0 609.2 98.1C607.7 94.2 605.5 89.5 604.0 86.5C602.5 83.5 602.2 82.6 600.2 80.0C598.2 77.4 594.2 73.6 591.7 70.8C589.2 68.0 587.4 65.2 585.3 63.0C583.1 60.9 581.0 59.3 578.8 57.9C576.6 56.5 574.9 55.4 572.3 54.4C569.7 53.4 566.3 51.8 563.3 51.8C560.3 51.8 556.9 52.6 554.2 54.4C551.5 56.2 548.9 59.2 547.1 62.4C545.3 65.6 544.1 69.2 543.2 73.4C542.3 77.6 542.0 84.1 541.9 87.6C541.8 91.1 542.2 92.0 542.6 94.5C543.0 97.0 543.5 99.9 544.0 102.6C544.5 105.3 545.2 108.1 545.8 110.8C546.4 113.5 547.0 116.2 547.6 118.9C548.2 121.6 549.0 124.5 549.4 127.1C549.8 129.7 550.1 132.3 549.9 134.3C549.7 136.3 548.9 137.6 548.0 138.9C547.1 140.2 545.8 141.2 544.4 142.0C543.0 142.8 541.2 143.3 539.9 143.6C538.5 143.9 538.3 143.6 536.3 144.0C534.3 144.4 530.5 145.3 528.1 145.9C525.7 146.5 524.5 146.7 521.8 147.5C519.1 148.3 515.5 149.7 512.1 150.8C508.8 152.0 504.9 153.1 501.7 154.4C498.5 155.8 495.5 157.1 492.7 158.9C489.9 160.7 486.9 162.5 484.9 165.0C482.8 167.5 481.3 170.9 480.4 174.0C479.5 177.1 479.1 180.6 479.5 183.7C479.9 186.8 481.2 190.2 483.0 192.8C484.8 195.4 487.8 197.6 490.1 199.3C492.4 201.0 493.8 201.8 496.6 203.1C499.4 204.4 503.4 206.1 506.9 207.0C510.3 207.9 514.0 208.5 517.3 208.8C520.6 209.2 523.1 209.1 526.9 209.1C530.7 209.1 536.2 208.7 539.9 209.1C543.6 209.5 546.4 210.3 548.9 211.7C551.4 213.0 553.2 214.9 554.7 217.2C556.2 219.5 557.2 222.2 557.7 225.6C558.2 228.9 557.9 233.6 558.0 237.3C558.1 241.0 558.1 243.7 558.2 247.6C558.3 251.5 558.5 257.1 558.6 260.6C558.7 264.1 558.7 266.1 559.0 268.8Z" transform="translate(1.1,-0.7) rotate(154.2857 604.5 169.7)" fill="none" stroke="#0a0a0a" stroke-width="0.812"/><path d="M559.0 268.8C559.3 271.5 559.3 273.3 560.3 277.0C561.3 280.7 563.0 286.6 564.9 291.1C566.8 295.6 569.1 300.0 571.8 304.0C574.5 308.0 577.7 311.8 581.3 315.1C584.9 318.4 589.0 321.4 593.4 323.7C597.8 326.0 602.6 327.8 607.5 328.8C612.4 329.8 617.6 330.2 622.6 329.8C627.6 329.4 632.7 328.4 637.4 326.6C642.1 324.9 646.6 322.3 650.6 319.3C654.6 316.3 658.3 312.7 661.4 308.8C664.5 304.9 667.0 300.5 669.0 296.0C671.0 291.5 672.4 286.7 673.4 281.9C674.4 277.1 674.6 272.3 674.9 267.0C675.1 261.7 675.0 254.1 674.9 250.0C674.8 245.9 674.4 245.1 674.0 242.5C673.6 239.9 672.9 236.6 672.5 234.3C672.1 232.0 671.9 230.9 671.7 228.9C671.6 226.9 671.4 224.4 671.6 222.6C671.8 220.8 672.0 219.1 672.8 218.0C673.6 216.9 675.0 216.3 676.3 215.9C677.5 215.5 678.6 215.7 680.3 215.5C681.9 215.3 684.0 215.2 686.2 215.0C688.4 214.8 691.4 214.4 693.5 214.0C695.6 213.6 697.2 213.4 698.9 212.6C700.5 211.8 702.4 210.5 703.4 209.0C704.4 207.5 705.5 205.9 705.1 203.6C704.7 201.3 702.8 198.2 700.7 195.4C698.6 192.6 694.4 189.4 692.6 186.8C690.8 184.2 690.5 181.8 689.9 180.0C689.3 178.2 689.2 177.5 689.3 176.3C689.4 175.1 690.0 173.7 690.7 172.6C691.5 171.5 692.4 171.0 693.8 170.0C695.2 169.0 696.9 168.0 699.0 166.4C701.1 164.8 704.5 162.5 706.3 160.7C708.1 158.9 709.2 157.1 709.9 155.5C710.6 153.9 710.8 152.8 710.6 151.4C710.4 150.0 710.0 148.6 708.8 147.3C707.5 146.0 705.2 144.7 703.1 143.6C701.0 142.5 698.3 141.5 695.9 140.8C693.5 140.1 692.8 139.9 688.7 139.5C684.6 139.1 676.1 138.8 671.1 138.5C666.1 138.2 662.0 138.1 658.6 138.0C655.2 137.9 654.1 138.2 650.6 137.8C647.1 137.4 641.5 137.0 637.6 135.6C633.7 134.2 630.4 132.0 627.3 129.2C624.2 126.4 621.3 122.0 618.9 118.8C616.5 115.6 614.6 113.2 613.0 109.8C611.4 106.3 610.7 102.0 609.2 98.1C607.7 94.2 605.5 89.5 604.0 86.5C602.5 83.5 602.2 82.6 600.2 80.0C598.2 77.4 594.2 73.6 591.7 70.8C589.2 68.0 587.4 65.2 585.3 63.0C583.1 60.9 581.0 59.3 578.8 57.9C576.6 56.5 574.9 55.4 572.3 54.4C569.7 53.4 566.3 51.8 563.3 51.8C560.3 51.8 556.9 52.6 554.2 54.4C551.5 56.2 548.9 59.2 547.1 62.4C545.3 65.6 544.1 69.2 543.2 73.4C542.3 77.6 542.0 84.1 541.9 87.6C541.8 91.1 542.2 92.0 542.6 94.5C543.0 97.0 543.5 99.9 544.0 102.6C544.5 105.3 545.2 108.1 545.8 110.8C546.4 113.5 547.0 116.2 547.6 118.9C548.2 121.6 549.0 124.5 549.4 127.1C549.8 129.7 550.1 132.3 549.9 134.3C549.7 136.3 548.9 137.6 548.0 138.9C547.1 140.2 545.8 141.2 544.4 142.0C543.0 142.8 541.2 143.3 539.9 143.6C538.5 143.9 538.3 143.6 536.3 144.0C534.3 144.4 530.5 145.3 528.1 145.9C525.7 146.5 524.5 146.7 521.8 147.5C519.1 148.3 515.5 149.7 512.1 150.8C508.8 152.0 504.9 153.1 501.7 154.4C498.5 155.8 495.5 157.1 492.7 158.9C489.9 160.7 486.9 162.5 484.9 165.0C482.8 167.5 481.3 170.9 480.4 174.0C479.5 177.1 479.1 180.6 479.5 183.7C479.9 186.8 481.2 190.2 483.0 192.8C484.8 195.4 487.8 197.6 490.1 199.3C492.4 201.0 493.8 201.8 496.6 203.1C499.4 204.4 503.4 206.1 506.9 207.0C510.3 207.9 514.0 208.5 517.3 208.8C520.6 209.2 523.1 209.1 526.9 209.1C530.7 209.1 536.2 208.7 539.9 209.1C543.6 209.5 546.4 210.3 548.9 211.7C551.4 213.0 553.2 214.9 554.7 217.2C556.2 219.5 557.2 222.2 557.7 225.6C558.2 228.9 557.9 233.6 558.0 237.3C558.1 241.0 558.1 243.7 558.2 247.6C558.3 251.5 558.5 257.1 558.6 260.6C558.7 264.1 558.7 266.1 559.0 268.8Z" transform="translate(-0.9,0.7) rotate(205.7143 604.5 169.7)" fill="none" stroke="#0a0a0a" stroke-width="0.812"/><path d="M559.0 268.8C559.3 271.5 559.3 273.3 560.3 277.0C561.3 280.7 563.0 286.6 564.9 291.1C566.8 295.6 569.1 300.0 571.8 304.0C574.5 308.0 577.7 311.8 581.3 315.1C584.9 318.4 589.0 321.4 593.4 323.7C597.8 326.0 602.6 327.8 607.5 328.8C612.4 329.8 617.6 330.2 622.6 329.8C627.6 329.4 632.7 328.4 637.4 326.6C642.1 324.9 646.6 322.3 650.6 319.3C654.6 316.3 658.3 312.7 661.4 308.8C664.5 304.9 667.0 300.5 669.0 296.0C671.0 291.5 672.4 286.7 673.4 281.9C674.4 277.1 674.6 272.3 674.9 267.0C675.1 261.7 675.0 254.1 674.9 250.0C674.8 245.9 674.4 245.1 674.0 242.5C673.6 239.9 672.9 236.6 672.5 234.3C672.1 232.0 671.9 230.9 671.7 228.9C671.6 226.9 671.4 224.4 671.6 222.6C671.8 220.8 672.0 219.1 672.8 218.0C673.6 216.9 675.0 216.3 676.3 215.9C677.5 215.5 678.6 215.7 680.3 215.5C681.9 215.3 684.0 215.2 686.2 215.0C688.4 214.8 691.4 214.4 693.5 214.0C695.6 213.6 697.2 213.4 698.9 212.6C700.5 211.8 702.4 210.5 703.4 209.0C704.4 207.5 705.5 205.9 705.1 203.6C704.7 201.3 702.8 198.2 700.7 195.4C698.6 192.6 694.4 189.4 692.6 186.8C690.8 184.2 690.5 181.8 689.9 180.0C689.3 178.2 689.2 177.5 689.3 176.3C689.4 175.1 690.0 173.7 690.7 172.6C691.5 171.5 692.4 171.0 693.8 170.0C695.2 169.0 696.9 168.0 699.0 166.4C701.1 164.8 704.5 162.5 706.3 160.7C708.1 158.9 709.2 157.1 709.9 155.5C710.6 153.9 710.8 152.8 710.6 151.4C710.4 150.0 710.0 148.6 708.8 147.3C707.5 146.0 705.2 144.7 703.1 143.6C701.0 142.5 698.3 141.5 695.9 140.8C693.5 140.1 692.8 139.9 688.7 139.5C684.6 139.1 676.1 138.8 671.1 138.5C666.1 138.2 662.0 138.1 658.6 138.0C655.2 137.9 654.1 138.2 650.6 137.8C647.1 137.4 641.5 137.0 637.6 135.6C633.7 134.2 630.4 132.0 627.3 129.2C624.2 126.4 621.3 122.0 618.9 118.8C616.5 115.6 614.6 113.2 613.0 109.8C611.4 106.3 610.7 102.0 609.2 98.1C607.7 94.2 605.5 89.5 604.0 86.5C602.5 83.5 602.2 82.6 600.2 80.0C598.2 77.4 594.2 73.6 591.7 70.8C589.2 68.0 587.4 65.2 585.3 63.0C583.1 60.9 581.0 59.3 578.8 57.9C576.6 56.5 574.9 55.4 572.3 54.4C569.7 53.4 566.3 51.8 563.3 51.8C560.3 51.8 556.9 52.6 554.2 54.4C551.5 56.2 548.9 59.2 547.1 62.4C545.3 65.6 544.1 69.2 543.2 73.4C542.3 77.6 542.0 84.1 541.9 87.6C541.8 91.1 542.2 92.0 542.6 94.5C543.0 97.0 543.5 99.9 544.0 102.6C544.5 105.3 545.2 108.1 545.8 110.8C546.4 113.5 547.0 116.2 547.6 118.9C548.2 121.6 549.0 124.5 549.4 127.1C549.8 129.7 550.1 132.3 549.9 134.3C549.7 136.3 548.9 137.6 548.0 138.9C547.1 140.2 545.8 141.2 544.4 142.0C543.0 142.8 541.2 143.3 539.9 143.6C538.5 143.9 538.3 143.6 536.3 144.0C534.3 144.4 530.5 145.3 528.1 145.9C525.7 146.5 524.5 146.7 521.8 147.5C519.1 148.3 515.5 149.7 512.1 150.8C508.8 152.0 504.9 153.1 501.7 154.4C498.5 155.8 495.5 157.1 492.7 158.9C489.9 160.7 486.9 162.5 484.9 165.0C482.8 167.5 481.3 170.9 480.4 174.0C479.5 177.1 479.1 180.6 479.5 183.7C479.9 186.8 481.2 190.2 483.0 192.8C484.8 195.4 487.8 197.6 490.1 199.3C492.4 201.0 493.8 201.8 496.6 203.1C499.4 204.4 503.4 206.1 506.9 207.0C510.3 207.9 514.0 208.5 517.3 208.8C520.6 209.2 523.1 209.1 526.9 209.1C530.7 209.1 536.2 208.7 539.9 209.1C543.6 209.5 546.4 210.3 548.9 211.7C551.4 213.0 553.2 214.9 554.7 217.2C556.2 219.5 557.2 222.2 557.7 225.6C558.2 228.9 557.9 233.6 558.0 237.3C558.1 241.0 558.1 243.7 558.2 247.6C558.3 251.5 558.5 257.1 558.6 260.6C558.7 264.1 558.7 266.1 559.0 268.8Z" transform="translate(-0.2,-1.3) rotate(257.1429 604.5 169.7)" fill="none" stroke="#0a0a0a" stroke-width="0.812"/><path d="M559.0 268.8C559.3 271.5 559.3 273.3 560.3 277.0C561.3 280.7 563.0 286.6 564.9 291.1C566.8 295.6 569.1 300.0 571.8 304.0C574.5 308.0 577.7 311.8 581.3 315.1C584.9 318.4 589.0 321.4 593.4 323.7C597.8 326.0 602.6 327.8 607.5 328.8C612.4 329.8 617.6 330.2 622.6 329.8C627.6 329.4 632.7 328.4 637.4 326.6C642.1 324.9 646.6 322.3 650.6 319.3C654.6 316.3 658.3 312.7 661.4 308.8C664.5 304.9 667.0 300.5 669.0 296.0C671.0 291.5 672.4 286.7 673.4 281.9C674.4 277.1 674.6 272.3 674.9 267.0C675.1 261.7 675.0 254.1 674.9 250.0C674.8 245.9 674.4 245.1 674.0 242.5C673.6 239.9 672.9 236.6 672.5 234.3C672.1 232.0 671.9 230.9 671.7 228.9C671.6 226.9 671.4 224.4 671.6 222.6C671.8 220.8 672.0 219.1 672.8 218.0C673.6 216.9 675.0 216.3 676.3 215.9C677.5 215.5 678.6 215.7 680.3 215.5C681.9 215.3 684.0 215.2 686.2 215.0C688.4 214.8 691.4 214.4 693.5 214.0C695.6 213.6 697.2 213.4 698.9 212.6C700.5 211.8 702.4 210.5 703.4 209.0C704.4 207.5 705.5 205.9 705.1 203.6C704.7 201.3 702.8 198.2 700.7 195.4C698.6 192.6 694.4 189.4 692.6 186.8C690.8 184.2 690.5 181.8 689.9 180.0C689.3 178.2 689.2 177.5 689.3 176.3C689.4 175.1 690.0 173.7 690.7 172.6C691.5 171.5 692.4 171.0 693.8 170.0C695.2 169.0 696.9 168.0 699.0 166.4C701.1 164.8 704.5 162.5 706.3 160.7C708.1 158.9 709.2 157.1 709.9 155.5C710.6 153.9 710.8 152.8 710.6 151.4C710.4 150.0 710.0 148.6 708.8 147.3C707.5 146.0 705.2 144.7 703.1 143.6C701.0 142.5 698.3 141.5 695.9 140.8C693.5 140.1 692.8 139.9 688.7 139.5C684.6 139.1 676.1 138.8 671.1 138.5C666.1 138.2 662.0 138.1 658.6 138.0C655.2 137.9 654.1 138.2 650.6 137.8C647.1 137.4 641.5 137.0 637.6 135.6C633.7 134.2 630.4 132.0 627.3 129.2C624.2 126.4 621.3 122.0 618.9 118.8C616.5 115.6 614.6 113.2 613.0 109.8C611.4 106.3 610.7 102.0 609.2 98.1C607.7 94.2 605.5 89.5 604.0 86.5C602.5 83.5 602.2 82.6 600.2 80.0C598.2 77.4 594.2 73.6 591.7 70.8C589.2 68.0 587.4 65.2 585.3 63.0C583.1 60.9 581.0 59.3 578.8 57.9C576.6 56.5 574.9 55.4 572.3 54.4C569.7 53.4 566.3 51.8 563.3 51.8C560.3 51.8 556.9 52.6 554.2 54.4C551.5 56.2 548.9 59.2 547.1 62.4C545.3 65.6 544.1 69.2 543.2 73.4C542.3 77.6 542.0 84.1 541.9 87.6C541.8 91.1 542.2 92.0 542.6 94.5C543.0 97.0 543.5 99.9 544.0 102.6C544.5 105.3 545.2 108.1 545.8 110.8C546.4 113.5 547.0 116.2 547.6 118.9C548.2 121.6 549.0 124.5 549.4 127.1C549.8 129.7 550.1 132.3 549.9 134.3C549.7 136.3 548.9 137.6 548.0 138.9C547.1 140.2 545.8 141.2 544.4 142.0C543.0 142.8 541.2 143.3 539.9 143.6C538.5 143.9 538.3 143.6 536.3 144.0C534.3 144.4 530.5 145.3 528.1 145.9C525.7 146.5 524.5 146.7 521.8 147.5C519.1 148.3 515.5 149.7 512.1 150.8C508.8 152.0 504.9 153.1 501.7 154.4C498.5 155.8 495.5 157.1 492.7 158.9C489.9 160.7 486.9 162.5 484.9 165.0C482.8 167.5 481.3 170.9 480.4 174.0C479.5 177.1 479.1 180.6 479.5 183.7C479.9 186.8 481.2 190.2 483.0 192.8C484.8 195.4 487.8 197.6 490.1 199.3C492.4 201.0 493.8 201.8 496.6 203.1C499.4 204.4 503.4 206.1 506.9 207.0C510.3 207.9 514.0 208.5 517.3 208.8C520.6 209.2 523.1 209.1 526.9 209.1C530.7 209.1 536.2 208.7 539.9 209.1C543.6 209.5 546.4 210.3 548.9 211.7C551.4 213.0 553.2 214.9 554.7 217.2C556.2 219.5 557.2 222.2 557.7 225.6C558.2 228.9 557.9 233.6 558.0 237.3C558.1 241.0 558.1 243.7 558.2 247.6C558.3 251.5 558.5 257.1 558.6 260.6C558.7 264.1 558.7 266.1 559.0 268.8Z" transform="translate(0.1,0.8) rotate(308.5714 604.5 169.7)" fill="none" stroke="#0a0a0a" stroke-width="0.812"/><text x="531.3" y="57.1" font-size="5.4px" fill="#1c2430" text-anchor="middle">11</text><text x="590" y="57.7" font-size="5.4px" fill="#1c2430" text-anchor="middle">1</text><text x="561.6" y="65.9" font-size="5.4px" fill="#1c2430" text-anchor="middle">1</text><text x="583.2" y="74.0" font-size="5.4px" fill="#1c2430" text-anchor="middle">1</text><text x="565.8" y="80.4" font-size="5.4px" fill="#1c2430" text-anchor="middle">3</text><text x="578.3" y="88.3" font-size="5.4px" fill="#1c2430" text-anchor="middle">1</text><text x="535.9" y="101.7" font-size="5.4px" fill="#1c2430" text-anchor="middle">1</text><text x="569.3" y="105.5" font-size="5.4px" fill="#1c2430" text-anchor="middle">2</text><text x="588.2" y="117.3" font-size="5.4px" fill="#1c2430" text-anchor="middle">1</text><text x="494.1" y="142.9" font-size="5.4px" fill="#1c2430" text-anchor="middle">2</text><text x="509.3" y="146.6" font-size="5.4px" fill="#1c2430" text-anchor="middle">1</text><text x="516.3" y="156.9" font-size="5.4px" fill="#1c2430" text-anchor="middle">1</text><text x="551.1" y="151.7" font-size="5.4px" fill="#1c2430" text-anchor="middle">1</text><text x="470.8" y="160.9" font-size="5.4px" fill="#1c2430" text-anchor="middle">18</text><text x="606.5" y="171.9" font-size="5.4px" fill="#1c2430" text-anchor="middle">55</text><text x="646.6" y="43.5" font-size="5.4px" fill="#1c2430" text-anchor="middle">39</text><text x="621.6" y="59.3" font-size="5.4px" fill="#1c2430" text-anchor="middle">4</text><text x="618.3" y="73.8" font-size="5.4px" fill="#1c2430" text-anchor="middle">3</text><text x="659.4" y="70.7" font-size="5.4px" fill="#1c2430" text-anchor="middle">2</text><text x="625.1" y="86.8" font-size="5.4px" fill="#1c2430" text-anchor="middle">2</text><text x="668.6" y="93.4" font-size="5.4px" fill="#1c2430" text-anchor="middle">4</text><text x="683.8" y="89.6" font-size="5.4px" fill="#1c2430" text-anchor="middle">10</text><text x="653.4" y="98.9" font-size="5.4px" fill="#1c2430" text-anchor="middle">6</text><text x="636.3" y="102.2" font-size="5.4px" fill="#1c2430" text-anchor="middle">2</text><text x="667.7" y="107.2" font-size="5.4px" fill="#1c2430" text-anchor="middle">2</text><text x="680.3" y="106.6" font-size="5.4px" fill="#1c2430" text-anchor="middle">2</text><text x="657.4" y="117.6" font-size="5.4px" fill="#1c2430" text-anchor="middle">3</text><text x="636.7" y="124.2" font-size="5.4px" fill="#1c2430" text-anchor="middle">7</text><text x="674.8" y="122.0" font-size="5.4px" fill="#1c2430" text-anchor="middle">2</text><text x="689.1" y="122.0" font-size="5.4px" fill="#1c2430" text-anchor="middle">1</text><text x="704.5" y="115.1" font-size="5.4px" fill="#1c2430" text-anchor="middle">5</text><text x="732.6" y="123.1" font-size="5.4px" fill="#1c2430" text-anchor="middle">24</text><text x="684" y="135.2" font-size="5.4px" fill="#1c2430" text-anchor="middle">1</text><text x="717.9" y="153.2" font-size="5.4px" fill="#1c2430" text-anchor="middle">3</text><text x="692.4" y="164.9" font-size="5.4px" fill="#1c2430" text-anchor="middle">2</text><text x="682" y="179.8" font-size="5.4px" fill="#1c2430" text-anchor="middle">1</text><text x="695.2" y="180.4" font-size="5.4px" fill="#1c2430" text-anchor="middle">3</text><text x="718.3" y="182.3" font-size="5.4px" fill="#1c2430" text-anchor="middle">3</text><text x="703.8" y="189.7" font-size="5.4px" fill="#1c2430" text-anchor="middle">2</text><text x="521.4" y="204.9" font-size="5.4px" fill="#1c2430" text-anchor="middle">1</text><text x="554.6" y="203.1" font-size="5.4px" fill="#1c2430" text-anchor="middle">1</text><text x="525.3" y="230.2" font-size="5.4px" fill="#1c2430" text-anchor="middle">1</text><text x="536.1" y="231.3" font-size="5.4px" fill="#1c2430" text-anchor="middle">1</text><text x="513.2" y="239.0" font-size="5.4px" fill="#1c2430" text-anchor="middle">2</text><text x="534.8" y="245.8" font-size="5.4px" fill="#1c2430" text-anchor="middle">2</text><text x="550" y="241.2" font-size="5.4px" fill="#1c2430" text-anchor="middle">1</text><text x="564" y="235.2" font-size="5.4px" fill="#1c2430" text-anchor="middle">1</text><text x="599.2" y="230.4" font-size="5.4px" fill="#1c2430" text-anchor="middle">6</text><text x="577.9" y="258.3" font-size="5.4px" fill="#1c2430" text-anchor="middle">1</text><text x="593.3" y="258.1" font-size="5.4px" fill="#1c2430" text-anchor="middle">1</text><text x="600.3" y="270.4" font-size="5.4px" fill="#1c2430" text-anchor="middle">1</text><text x="508.8" y="268.9" font-size="5.4px" fill="#1c2430" text-anchor="middle">13</text><text x="542.7" y="268.2" font-size="5.4px" fill="#1c2430" text-anchor="middle">1</text><text x="600.3" y="286.3" font-size="5.4px" fill="#1c2430" text-anchor="middle">2</text><text x="674.8" y="197.9" font-size="5.4px" fill="#1c2430" text-anchor="middle">2</text><text x="689.1" y="195.7" font-size="5.4px" fill="#1c2430" text-anchor="middle">2</text><text x="683.6" y="209.7" font-size="5.4px" fill="#1c2430" text-anchor="middle">1</text><text x="698.3" y="207.1" font-size="5.4px" fill="#1c2430" text-anchor="middle">1</text><text x="712.2" y="212.1" font-size="5.4px" fill="#1c2430" text-anchor="middle">7</text><text x="645.1" y="215.0" font-size="5.4px" fill="#1c2430" text-anchor="middle">19</text><text x="678.5" y="225.3" font-size="5.4px" fill="#1c2430" text-anchor="middle">2</text><text x="647.9" y="235.7" font-size="5.4px" fill="#1c2430" text-anchor="middle">1</text><text x="628.6" y="243.8" font-size="5.4px" fill="#1c2430" text-anchor="middle">2</text><text x="668.2" y="251.1" font-size="5.4px" fill="#1c2430" text-anchor="middle">1</text><text x="690.2" y="247.8" font-size="5.4px" fill="#1c2430" text-anchor="middle">1</text><text x="720.5" y="243.8" font-size="5.4px" fill="#1c2430" text-anchor="middle">17</text><text x="653.2" y="261.6" font-size="5.4px" fill="#1c2430" text-anchor="middle">1</text><text x="620.2" y="273.1" font-size="5.4px" fill="#1c2430" text-anchor="middle">1</text><text x="641.1" y="280.8" font-size="5.4px" fill="#1c2430" text-anchor="middle">3</text><text x="621.3" y="307.3" font-size="5.4px" fill="#1c2430" text-anchor="middle">2</text></g>
<text x="253.3" y="413.6" font-size="10.8px" fill="#000">Collective</text><text x="416" y="404.5" font-size="10.8px" fill="#000">Individual</text><text x="504.2" y="474.4" font-size="10.8px" fill="#000">Industrial</text><text x="515" y="676.5" font-size="10.8px" fill="#000">Park</text><text x="396.5" y="741" font-size="10.8px" fill="#000">Road</text><text x="236" y="704" font-size="10.8px" fill="#000">School</text><text x="206.4" y="490" font-size="10.8px" fill="#000">Land</text><text x="206.4" y="504.9" font-size="10.8px" fill="#000">reserve</text>
<text x="203.1" y="412.2" font-size="16.8px" font-weight="bold" fill="#000">3</text>
<g><circle cx="482.5" cy="505.6" r="5.4" fill="none" stroke="#000" stroke-width="1.1"/><circle cx="511.1" cy="513.4" r="7.6" fill="none" stroke="#000" stroke-width="1.1"/><circle cx="494.7" cy="544.8" r="5.0" fill="none" stroke="#000" stroke-width="1.1"/><circle cx="495.7" cy="576.0" r="5.0" fill="none" stroke="#000" stroke-width="1.1"/><circle cx="480.5" cy="583.5" r="4.9" fill="none" stroke="#000" stroke-width="1.1"/><circle cx="465.6" cy="589.3" r="4.9" fill="none" stroke="#000" stroke-width="1.1"/><circle cx="450.1" cy="592.4" r="4.9" fill="none" stroke="#000" stroke-width="1.1"/><circle cx="419" cy="609.7" r="6.2" fill="none" stroke="#000" stroke-width="1.1"/><circle cx="378.3" cy="565" r="8.6" fill="none" stroke="#000" stroke-width="1.1"/><path d="M482.5 499.5V445.2H601.8" fill="none" stroke="#000" stroke-width="1"/><path d="M511.1 505.2V479H601.8" fill="none" stroke="#000" stroke-width="1"/><path d="M500.5 544.8H551.2V509.3H601.8" fill="none" stroke="#000" stroke-width="1"/><path d="M501.5 576.2H560.2V542.1H602.7" fill="none" stroke="#000" stroke-width="1"/><path d="M480.5 589.2V595.2H569.2V569.5H601.8" fill="none" stroke="#000" stroke-width="1"/><path d="M465.6 595V606.6H602.7" fill="none" stroke="#000" stroke-width="1"/><path d="M450.1 598V645.2H601.8" fill="none" stroke="#000" stroke-width="1"/><path d="M419 616.5V691.6H601.8" fill="none" stroke="#000" stroke-width="1"/><path d="M378.8 574.2V755.5H601.8" fill="none" stroke="#000" stroke-width="1"/><polygon points="482.5,500.2 480.3,495.2 484.7,495.2" fill="#000"/><polygon points="511.1,505.8 508.90000000000003,500.8 513.3000000000001,500.8" fill="#000"/><polygon points="499.7,544.8 504.7,542.5999999999999 504.7,547.0" fill="#000"/><polygon points="500.7,576.2 505.7,574.0 505.7,578.4000000000001" fill="#000"/><polygon points="480.5,588.4 478.3,593.4 482.7,593.4" fill="#000"/><polygon points="465.6,594.2 463.40000000000003,599.2 467.8,599.2" fill="#000"/><polygon points="450.1,597.3 447.90000000000003,602.3 452.3,602.3" fill="#000"/><polygon points="419,615.9 416.8,620.9 421.2,620.9" fill="#000"/><polygon points="378.8,573.6 376.6,578.6 381.0,578.6" fill="#000"/></g>
<text class="ann" x="608.7" y="449.3" textLength="117.2" lengthAdjust="spacingAndGlyphs">Industrial and collective</text><text class="ann" x="606.9" y="483" textLength="46.4" lengthAdjust="spacingAndGlyphs">Industrial</text><text class="ann" x="606.9" y="512.9" textLength="106.4" lengthAdjust="spacingAndGlyphs">Industrial and unbuilt</text><text class="ann" x="608.7" y="546" textLength="92.8" lengthAdjust="spacingAndGlyphs">Industrial and park</text><text class="ann" x="606.9" y="566.2" textLength="93.1" lengthAdjust="spacingAndGlyphs">Industrial and park</text><text class="ann" x="606.9" y="580.7" textLength="69.6" lengthAdjust="spacingAndGlyphs">and individual</text><text class="ann" x="608.7" y="602.7" textLength="114.2" lengthAdjust="spacingAndGlyphs">Industrial and park and</text><text class="ann" x="608.7" y="617.1" textLength="94.3" lengthAdjust="spacingAndGlyphs">individual and road</text><text class="ann" x="606.9" y="633.7" textLength="114.5" lengthAdjust="spacingAndGlyphs">Industrial and park and</text><text class="ann" x="606.9" y="648.2" textLength="116.9" lengthAdjust="spacingAndGlyphs">individual and road and</text><text class="ann" x="606.9" y="662.9" textLength="46.1" lengthAdjust="spacingAndGlyphs">collective</text><text class="ann" x="606.9" y="679.8" textLength="114.5" lengthAdjust="spacingAndGlyphs">Industrial and park and</text><text class="ann" x="606.9" y="694.6" textLength="116.9" lengthAdjust="spacingAndGlyphs">individual and road and</text><text class="ann" x="606.9" y="709.3" textLength="103.4" lengthAdjust="spacingAndGlyphs">collective and school</text><text class="ann" x="607.8" y="736.2" textLength="112.1" lengthAdjust="spacingAndGlyphs">All: industrial and park</text><text class="ann" x="607.8" y="750.9" textLength="116.6" lengthAdjust="spacingAndGlyphs">and individual and road</text><text class="ann" x="607.8" y="765.7" textLength="89.5" lengthAdjust="spacingAndGlyphs">and collective and</text><text class="ann" x="607.8" y="780.5" textLength="116.9" lengthAdjust="spacingAndGlyphs">school and land reserve</text>
</svg></body></html>
